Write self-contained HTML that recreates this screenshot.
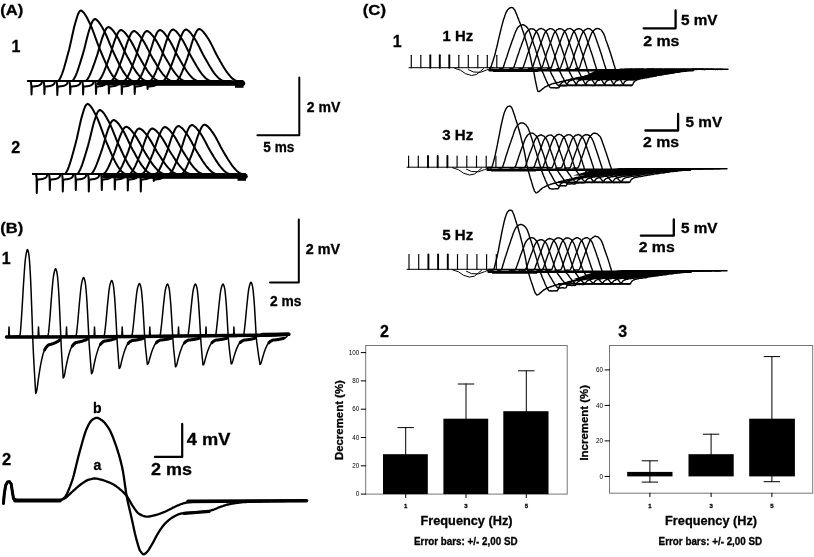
<!DOCTYPE html>
<html lang="en">
<head>
<meta charset="utf-8">
<title>Figure</title>
<style>
html,body{margin:0;padding:0;background:#fff;}
body{width:814px;height:557px;overflow:hidden;}
svg{display:block;}
svg text{font-family:"Liberation Sans",Arial,Helvetica,sans-serif;fill:#000;}
svg text[font-weight="bold"]{stroke:#000;stroke-width:0.3px;}
svg path,svg line{fill:none;stroke:#000;stroke-linejoin:round;stroke-linecap:round;}
</style>
</head>
<body>
<svg width="814" height="557" viewBox="0 0 814 557">
<rect x="0" y="0" width="814" height="557" fill="#fff"/>
<path d="M28 81L30.7 81L31.3 85L31.5 94.5L31.9 86.4L32.5 86.4L33 86.4L33.5 86.4L34 86.4L34.5 86.3L35 86.3L35.5 86.3L36 86.2L36.5 86.1L37 86L37.5 85.9L38 85.8L38.5 85.6L39 85.4L39.5 85.2L40 84.9L40.5 84.6L41 84.1L41.5 83.4L42 81L42.5 81L58 81L59 80.3L60 78.5L61 76.5L62 74L63 71.2L64 68L65 64.5L66 61L67 57.3L68 53.6L69 49.9L70 45.8L71 41.4L72 36.8L73 32.2L74 27.8L75 23.9L76 20.4L77 17.2L78 14.2L79 12.2L80 11L81 10.5L82 11L83 11.9L84 13L85 14.4L86 16L87 17.8L88 19.7L89 21.7L90 23.7L91 26L92 28.4L93 31L94 33.7L95 36.5L96 39.2L97 42L98 44.7L99 47.2L100 49.6L101 52L102 54.4L103 56.8L104 59.1L105 61.4L106 63.6L107 65.8L108 67.8L109 69.7L110 71.5L111 73.2L112 74.8L113 76.2L114 77.5L115 78.5L116 79.4L117 80.2L118 80.8L119 81L120 81L121 81L122 81L123 81L124 81L125 81L243 82.5" stroke-width="2.0" />
<path d="M28 81L43.6 81L44.2 85L44.4 94L44.8 86.4L45.4 86.4L45.9 86.4L46.4 86.4L46.9 86.4L47.4 86.3L47.9 86.3L48.4 86.3L48.9 86.2L49.4 86.1L49.9 86L50.4 85.9L50.9 85.8L51.4 85.6L51.9 85.4L52.4 85.2L52.9 84.9L53.4 84.6L53.9 84.1L54.4 83.4L54.9 81L55.4 81L72 81L73 80.4L74 78.8L75 77.1L76 74.9L77 72.3L78 69.5L79 66.5L80 63.4L81 60.1L82 56.9L83 53.6L84 50.1L85 46.2L86 42.1L87 38.1L88 34.2L89 30.7L90 27.7L91 24.9L92 22.3L93 20.5L94 19.5L95 19L96 19.4L97 20.2L98 21.2L99 22.4L100 23.8L101 25.4L102 27.1L103 28.8L104 30.6L105 32.6L106 34.7L107 37L108 39.4L109 41.8L110 44.3L111 46.7L112 49L113 51.3L114 53.4L115 55.5L116 57.6L117 59.7L118 61.8L119 63.8L120 65.7L121 67.6L122 69.4L123 71.1L124 72.6L125 74.1L126 75.5L127 76.8L128 77.9L129 78.8L130 79.6L131 80.3L132 80.8L133 81L134 81L135 81L136 81L137 81L138 81L139 81L243 82.5" stroke-width="2.0" />
<path d="M28 81L56.5 81L57.1 85L57.3 95L57.7 86.4L58.3 86.4L58.8 86.4L59.3 86.4L59.8 86.4L60.3 86.3L60.8 86.3L61.3 86.3L61.8 86.2L62.3 86.1L62.8 86L63.3 85.9L63.8 85.8L64.3 85.6L64.8 85.4L65.3 85.2L65.8 84.9L66.3 84.6L66.8 84.1L67.3 83.4L67.8 81L68.3 81L85.5 81L86.5 80.5L87.5 79.1L88.5 77.6L89.5 75.7L90.5 73.5L91.5 71L92.5 68.4L93.5 65.6L94.5 62.8L95.5 60L96.5 57.2L97.5 54L98.5 50.6L99.5 47.1L100.5 43.6L101.5 40.3L102.5 37.2L103.5 34.6L104.5 32.1L105.5 29.9L106.5 28.3L107.5 27.4L108.5 27L109.5 27.4L110.5 28.1L111.5 28.9L112.5 30L113.5 31.2L114.5 32.6L115.5 34.1L116.5 35.6L117.5 37.1L118.5 38.8L119.5 40.7L120.5 42.7L121.5 44.8L122.5 46.9L123.5 49L124.5 51.1L125.5 53.2L126.5 55.1L127.5 57L128.5 58.8L129.5 60.6L130.5 62.4L131.5 64.2L132.5 66L133.5 67.7L134.5 69.3L135.5 70.9L136.5 72.4L137.5 73.7L138.5 75L139.5 76.2L140.5 77.4L141.5 78.3L142.5 79.1L143.5 79.8L144.5 80.4L145.5 80.8L146.5 81L147.5 81L148.5 81L149.5 81L150.5 81L151.5 81L152.5 81L243 82.5" stroke-width="2.0" />
<path d="M28 81L69.4 81L70 85L70.2 94L70.6 86.4L71.2 86.4L71.7 86.4L72.2 86.4L72.7 86.4L73.2 86.3L73.7 86.3L74.2 86.3L74.7 86.2L75.2 86.1L75.7 86L76.2 85.9L76.7 85.8L77.2 85.6L77.7 85.4L78.2 85.2L78.7 84.9L79.2 84.6L79.7 84.1L80.2 83.4L80.7 81L81.2 81L98 81L99 80.5L100 79.2L101 77.8L102 76L103 73.9L104 71.6L105 69.1L106 66.5L107 63.8L108 61.2L109 58.5L110 55.5L111 52.3L112 49L113 45.7L114 42.5L115 39.7L116 37.2L117 34.8L118 32.7L119 31.2L120 30.4L121 30L122 30.3L123 31L124 31.8L125 32.8L126 34L127 35.3L128 36.7L129 38.1L130 39.6L131 41.2L132 43L133 44.8L134 46.8L135 48.8L136 50.8L137 52.8L138 54.7L139 56.6L140 58.3L141 60L142 61.8L143 63.5L144 65.2L145 66.8L146 68.4L147 70L148 71.5L149 72.8L150 74.1L151 75.3L152 76.5L153 77.6L154 78.5L155 79.2L156 79.8L157 80.4L158 80.8L159 81L160 81L161 81L162 81L163 81L164 81L165 81L243 82.5" stroke-width="2.0" />
<path d="M28 81L82.3 81L82.9 85L83.1 94.5L83.5 86.4L84.1 86.4L84.6 86.4L85.1 86.4L85.6 86.4L86.1 86.3L86.6 86.3L87.1 86.3L87.6 86.2L88.1 86.1L88.6 86L89.1 85.9L89.6 85.8L90.1 85.6L90.6 85.4L91.1 85.2L91.6 84.9L92.1 84.6L92.6 84.1L93.1 83.4L93.6 81L94.1 81L111 81L112 80.5L113 79.2L114 77.8L115 76.1L116 74L117 71.8L118 69.3L119 66.8L120 64.2L121 61.6L122 58.9L123 56L124 52.9L125 49.6L126 46.4L127 43.3L128 40.5L129 38L130 35.7L131 33.6L132 32.2L133 31.4L134 31L135 31.3L136 32L137 32.8L138 33.8L139 34.9L140 36.2L141 37.5L142 38.9L143 40.4L144 42L145 43.7L146 45.5L147 47.5L148 49.4L149 51.4L150 53.3L151 55.2L152 57L153 58.8L154 60.4L155 62.1L156 63.8L157 65.5L158 67.1L159 68.7L160 70.2L161 71.7L162 73L163 74.3L164 75.4L165 76.6L166 77.6L167 78.5L168 79.2L169 79.9L170 80.4L171 80.8L172 81L173 81L174 81L175 81L176 81L177 81L178 81L243 82.5" stroke-width="2.0" />
<path d="M28 81L95.2 81L95.8 85L96 94L96.4 86.4L97 86.4L97.5 86.4L98 86.4L98.5 86.4L99 86.3L99.5 86.3L100 86.3L100.5 86.2L101 86.1L101.5 86L102 85.9L102.5 85.8L103 85.6L103.5 85.4L104 85.2L104.5 84.9L105 84.6L105.5 84.1L106 83.4L106.5 81L107 81L124 81L125 80.5L126 79.2L127 77.8L128 76.1L129 74L130 71.8L131 69.3L132 66.8L133 64.2L134 61.6L135 58.9L136 56L137 52.9L138 49.6L139 46.4L140 43.3L141 40.5L142 38L143 35.7L144 33.6L145 32.2L146 31.4L147 31L148 31.3L149 32L150 32.8L151 33.8L152 34.9L153 36.2L154 37.5L155 38.9L156 40.4L157 42L158 43.7L159 45.5L160 47.5L161 49.4L162 51.4L163 53.3L164 55.2L165 57L166 58.8L167 60.4L168 62.1L169 63.8L170 65.5L171 67.1L172 68.7L173 70.2L174 71.7L175 73L176 74.3L177 75.4L178 76.6L179 77.6L180 78.5L181 79.2L182 79.9L183 80.4L184 80.8L185 81L186 81L187 81L188 81L189 81L190 81L191 81L243 82.5" stroke-width="2.0" />
<path d="M28 81L108.1 81L108.7 85L108.9 93.5L109.3 86.4L109.9 86.4L110.4 86.4L110.9 86.4L111.4 86.4L111.9 86.3L112.4 86.3L112.9 86.3L113.4 86.2L113.9 86.1L114.4 86L114.9 85.9L115.4 85.8L115.9 85.6L116.4 85.4L116.9 85.2L117.4 84.9L117.9 84.6L118.4 84.1L118.9 83.4L119.4 81L119.9 81L137 81L138 80.5L139 79.2L140 77.8L141 76L142 73.9L143 71.6L144 69.1L145 66.5L146 63.8L147 61.2L148 58.5L149 55.5L150 52.3L151 49L152 45.7L153 42.5L154 39.7L155 37.2L156 34.8L157 32.7L158 31.2L159 30.4L160 30L161 30.3L162 31L163 31.8L164 32.8L165 34L166 35.3L167 36.7L168 38.1L169 39.6L170 41.2L171 43L172 44.8L173 46.8L174 48.8L175 50.8L176 52.8L177 54.7L178 56.6L179 58.3L180 60L181 61.8L182 63.5L183 65.2L184 66.8L185 68.4L186 70L187 71.5L188 72.8L189 74.1L190 75.3L191 76.5L192 77.6L193 78.5L194 79.2L195 79.8L196 80.4L197 80.8L198 81L199 81L200 81L201 81L202 81L203 81L204 81L243 82.5" stroke-width="2.0" />
<path d="M28 81L121 81L121.6 85L121.8 94L122.2 86.4L122.8 86.4L123.3 86.4L123.8 86.4L124.3 86.4L124.8 86.3L125.3 86.3L125.8 86.3L126.3 86.2L126.8 86.1L127.3 86L127.8 85.9L128.3 85.8L128.8 85.6L129.3 85.4L129.8 85.2L130.3 84.9L130.8 84.6L131.3 84.1L131.8 83.4L132.3 81L132.8 81L150 81L151 80.5L152 79.2L153 77.7L154 75.9L155 73.8L156 71.5L157 69L158 66.4L159 63.7L160 61L161 58.3L162 55.3L163 52.1L164 48.7L165 45.4L166 42.2L167 39.3L168 36.8L169 34.4L170 32.2L171 30.7L172 29.9L173 29.5L174 29.8L175 30.5L176 31.3L177 32.3L178 33.5L179 34.8L180 36.2L181 37.7L182 39.2L183 40.8L184 42.6L185 44.5L186 46.4L187 48.5L188 50.5L189 52.5L190 54.5L191 56.3L192 58.1L193 59.8L194 61.6L195 63.3L196 65L197 66.7L198 68.3L199 69.9L200 71.4L201 72.8L202 74.1L203 75.3L204 76.4L205 77.5L206 78.5L207 79.2L208 79.8L209 80.4L210 80.8L211 81L212 81L213 81L214 81L215 81L216 81L217 81L243 82.5" stroke-width="2.0" />
<path d="M28 81L133.9 81L134.5 85L134.7 94L135.1 86.4L135.7 86.4L136.2 86.4L136.7 86.4L137.2 86.4L137.7 86.3L138.2 86.3L138.7 86.3L139.2 86.2L139.7 86.1L140.2 86L140.7 85.9L141.2 85.8L141.7 85.6L142.2 85.4L142.7 85.2L143.2 84.9L143.7 84.6L144.2 84.1L144.7 83.4L145.2 81L145.7 81L163 81L164 80.5L165 79.2L166 77.7L167 75.9L168 73.8L169 71.5L170 69L171 66.4L172 63.7L173 61L174 58.3L175 55.3L176 52.1L177 48.7L178 45.4L179 42.2L180 39.3L181 36.8L182 34.4L183 32.2L184 30.7L185 29.9L186 29.5L187 29.8L188 30.5L189 31.3L190 32.3L191 33.5L192 34.8L193 36.2L194 37.7L195 39.2L196 40.8L197 42.6L198 44.5L199 46.4L200 48.5L201 50.5L202 52.5L203 54.5L204 56.3L205 58.1L206 59.8L207 61.6L208 63.3L209 65L210 66.7L211 68.3L212 69.9L213 71.4L214 72.8L215 74.1L216 75.3L217 76.4L218 77.5L219 78.5L220 79.2L221 79.8L222 80.4L223 80.8L224 81L225 81L226 81L227 81L228 81L229 81L230 81L243 82.5" stroke-width="2.0" />
<path d="M28 81L146.8 81L147.4 85L147.6 89L148 86.4L148.6 86.4L149.1 86.4L149.6 86.4L150.1 86.4L150.6 86.3L151.1 86.3L151.6 86.3L152.1 86.2L152.6 86.1L153.1 86L153.6 85.9L154.1 85.8L154.6 85.6L155.1 85.4L155.6 85.2L156.1 84.9L156.6 84.6L157.1 84.1L157.6 83.4L158.1 81L158.6 81L176.3 81L177.3 80.5L178.3 79.2L179.3 77.7L180.3 75.9L181.3 73.7L182.3 71.4L183.3 68.9L184.3 66.2L185.3 63.5L186.3 60.8L187.3 58.1L188.3 55L189.3 51.8L190.3 48.4L191.3 45L192.3 41.8L193.3 38.8L194.3 36.3L195.3 33.9L196.3 31.8L197.3 30.2L198.3 29.4L199.3 29L200.3 29.3L201.3 30L202.3 30.8L203.3 31.9L204.3 33.1L205.3 34.4L206.3 35.8L207.3 37.3L208.3 38.7L209.3 40.4L210.3 42.2L211.3 44.1L212.3 46.1L213.3 48.1L214.3 50.2L215.3 52.2L216.3 54.2L217.3 56.1L218.3 57.9L219.3 59.6L220.3 61.4L221.3 63.1L222.3 64.9L223.3 66.6L224.3 68.2L225.3 69.8L226.3 71.3L227.3 72.7L228.3 74L229.3 75.2L230.3 76.4L231.3 77.5L232.3 78.4L233.3 79.2L234.3 79.8L235.3 80.4L236.3 80.8L237.3 81L238.3 81L239.3 81L240.3 81L241.3 81L242.3 81L243 82.5" stroke-width="2.0" />
<line x1="98" y1="83.6" x2="243" y2="83.6" stroke-width="3.4"/>
<line x1="143" y1="83.4" x2="243" y2="83.4" stroke-width="4.6"/>
<rect x="235" y="80.2" width="8.5" height="7.6" fill="#000" stroke="none"/>
<path d="M33.4 174L36 174L36.6 178L36.8 193L37.2 179.4L37.8 179.4L38.3 179.4L38.8 179.4L39.3 179.4L39.8 179.3L40.3 179.3L40.8 179.3L41.3 179.2L41.8 179.1L42.3 179L42.8 178.9L43.3 178.8L43.8 178.6L44.3 178.4L44.8 178.2L45.3 177.9L45.8 177.6L46.3 177.1L46.8 176.4L47.3 174L47.8 174L64.7 174L65.7 173.3L66.7 171.5L67.7 169.5L68.7 167.1L69.7 164.2L70.7 161L71.7 157.6L72.7 154L73.7 150.4L74.7 146.7L75.7 143L76.7 139L77.7 134.5L78.7 130L79.7 125.4L80.7 121.1L81.7 117.1L82.7 113.7L83.7 110.4L84.7 107.5L85.7 105.5L86.7 104.3L87.7 103.8L88.7 104.3L89.7 105.2L90.7 106.3L91.7 107.7L92.7 109.3L93.7 111.1L94.7 113L95.7 114.9L96.7 117L97.7 119.2L98.7 121.6L99.7 124.2L100.7 126.9L101.7 129.6L102.7 132.4L103.7 135.2L104.7 137.8L105.7 140.4L106.7 142.8L107.7 145.1L108.7 147.5L109.7 149.9L110.7 152.2L111.7 154.5L112.7 156.7L113.7 158.8L114.7 160.9L115.7 162.8L116.7 164.5L117.7 166.2L118.7 167.8L119.7 169.3L120.7 170.5L121.7 171.5L122.7 172.4L123.7 173.2L124.7 173.8L125.7 174L126.7 174L127.7 174L128.7 174L129.7 174L130.7 174L131.7 174L245.5 175.5" stroke-width="2.0" />
<path d="M33.4 174L49 174L49.6 178L49.8 190L50.2 179.4L50.8 179.4L51.3 179.4L51.8 179.4L52.3 179.4L52.8 179.3L53.3 179.3L53.8 179.3L54.3 179.2L54.8 179.1L55.3 179L55.8 178.9L56.3 178.8L56.8 178.6L57.3 178.4L57.8 178.2L58.3 177.9L58.8 177.6L59.3 177.1L59.8 176.4L60.3 174L60.8 174L77 174L78 173.4L79 171.8L80 169.9L81 167.7L82 165.1L83 162.2L84 159.1L85 155.8L86 152.5L87 149.1L88 145.8L89 142.1L90 138L91 133.9L92 129.7L93 125.7L94 122.1L95 119L96 116L97 113.4L98 111.5L99 110.5L100 110L101 110.4L102 111.3L103 112.3L104 113.5L105 115L106 116.6L107 118.4L108 120.2L109 122L110 124L111 126.3L112 128.6L113 131.1L114 133.6L115 136.1L116 138.6L117 141L118 143.3L119 145.5L120 147.7L121 149.8L122 152L123 154.1L124 156.2L125 158.2L126 160.2L127 162L128 163.8L129 165.4L130 166.9L131 168.3L132 169.7L133 170.8L134 171.8L135 172.5L136 173.3L137 173.8L138 174L139 174L140 174L141 174L142 174L143 174L144 174L245.5 175.5" stroke-width="2.0" />
<path d="M33.4 174L62 174L62.6 178L62.8 191.5L63.2 179.4L63.8 179.4L64.3 179.4L64.8 179.4L65.3 179.4L65.8 179.3L66.3 179.3L66.8 179.3L67.3 179.2L67.8 179.1L68.3 179L68.8 178.9L69.3 178.8L69.8 178.6L70.3 178.4L70.8 178.2L71.3 177.9L71.8 177.6L72.3 177.1L72.8 176.4L73.3 174L73.8 174L90.8 174L91.8 173.5L92.8 172.1L93.8 170.6L94.8 168.7L95.8 166.5L96.8 164L97.8 161.4L98.8 158.6L99.8 155.8L100.8 153L101.8 150.2L102.8 147L103.8 143.6L104.8 140.1L105.8 136.6L106.8 133.3L107.8 130.2L108.8 127.6L109.8 125.1L110.8 122.9L111.8 121.3L112.8 120.4L113.8 120L114.8 120.4L115.8 121.1L116.8 121.9L117.8 123L118.8 124.2L119.8 125.6L120.8 127.1L121.8 128.6L122.8 130.1L123.8 131.8L124.8 133.7L125.8 135.7L126.8 137.8L127.8 139.9L128.8 142L129.8 144.1L130.8 146.2L131.8 148.1L132.8 150L133.8 151.8L134.8 153.6L135.8 155.4L136.8 157.2L137.8 159L138.8 160.7L139.8 162.3L140.8 163.9L141.8 165.4L142.8 166.7L143.8 168L144.8 169.2L145.8 170.4L146.8 171.3L147.8 172.1L148.8 172.8L149.8 173.4L150.8 173.8L151.8 174L152.8 174L153.8 174L154.8 174L155.8 174L156.8 174L157.8 174L245.5 175.5" stroke-width="2.0" />
<path d="M33.4 174L75 174L75.6 178L75.8 190L76.2 179.4L76.8 179.4L77.3 179.4L77.8 179.4L78.3 179.4L78.8 179.3L79.3 179.3L79.8 179.3L80.3 179.2L80.8 179.1L81.3 179L81.8 178.9L82.3 178.8L82.8 178.6L83.3 178.4L83.8 178.2L84.3 177.9L84.8 177.6L85.3 177.1L85.8 176.4L86.3 174L86.8 174L103.3 174L104.3 173.5L105.3 172.3L106.3 171L107.3 169.3L108.3 167.4L109.3 165.3L110.3 163L111.3 160.5L112.3 158.1L113.3 155.6L114.3 153.1L115.3 150.4L116.3 147.4L117.3 144.3L118.3 141.3L119.3 138.3L120.3 135.7L121.3 133.4L122.3 131.2L123.3 129.2L124.3 127.8L125.3 127.1L126.3 126.7L127.3 127L128.3 127.6L129.3 128.4L130.3 129.3L131.3 130.4L132.3 131.6L133.3 132.9L134.3 134.2L135.3 135.6L136.3 137.1L137.3 138.7L138.3 140.5L139.3 142.3L140.3 144.1L141.3 146L142.3 147.8L143.3 149.6L144.3 151.3L145.3 153L146.3 154.6L147.3 156.2L148.3 157.7L149.3 159.3L150.3 160.9L151.3 162.4L152.3 163.8L153.3 165.2L154.3 166.4L155.3 167.6L156.3 168.7L157.3 169.8L158.3 170.8L159.3 171.7L160.3 172.3L161.3 172.9L162.3 173.5L163.3 173.8L164.3 174L165.3 174L166.3 174L167.3 174L168.3 174L169.3 174L170.3 174L245.5 175.5" stroke-width="2.0" />
<path d="M33.4 174L88 174L88.6 178L88.8 191.5L89.2 179.4L89.8 179.4L90.3 179.4L90.8 179.4L91.3 179.4L91.8 179.3L92.3 179.3L92.8 179.3L93.3 179.2L93.8 179.1L94.3 179L94.8 178.9L95.3 178.8L95.8 178.6L96.3 178.4L96.8 178.2L97.3 177.9L97.8 177.6L98.3 177.1L98.8 176.4L99.3 174L99.8 174L116.3 174L117.3 173.6L118.3 172.4L119.3 171.1L120.3 169.5L121.3 167.6L122.3 165.6L123.3 163.4L124.3 161.1L125.3 158.7L126.3 156.3L127.3 153.9L128.3 151.3L129.3 148.4L130.3 145.5L131.3 142.5L132.3 139.7L133.3 137.1L134.3 134.9L135.3 132.8L136.3 130.9L137.3 129.6L138.3 128.8L139.3 128.5L140.3 128.8L141.3 129.4L142.3 130.1L143.3 131L144.3 132.1L145.3 133.2L146.3 134.5L147.3 135.7L148.3 137L149.3 138.5L150.3 140.1L151.3 141.7L152.3 143.5L153.3 145.3L154.3 147L155.3 148.8L156.3 150.6L157.3 152.2L158.3 153.8L159.3 155.3L160.3 156.8L161.3 158.4L162.3 159.9L163.3 161.4L164.3 162.8L165.3 164.2L166.3 165.5L167.3 166.7L168.3 167.9L169.3 168.9L170.3 170L171.3 170.9L172.3 171.8L173.3 172.4L174.3 173L175.3 173.5L176.3 173.9L177.3 174L178.3 174L179.3 174L180.3 174L181.3 174L182.3 174L183.3 174L245.5 175.5" stroke-width="2.0" />
<path d="M33.4 174L101 174L101.6 178L101.8 190L102.2 179.4L102.8 179.4L103.3 179.4L103.8 179.4L104.3 179.4L104.8 179.3L105.3 179.3L105.8 179.3L106.3 179.2L106.8 179.1L107.3 179L107.8 178.9L108.3 178.8L108.8 178.6L109.3 178.4L109.8 178.2L110.3 177.9L110.8 177.6L111.3 177.1L111.8 176.4L112.3 174L112.8 174L129.4 174L130.4 173.6L131.4 172.4L132.4 171.1L133.4 169.5L134.4 167.6L135.4 165.6L136.4 163.4L137.4 161.1L138.4 158.7L139.4 156.3L140.4 153.9L141.4 151.3L142.4 148.4L143.4 145.5L144.4 142.5L145.4 139.7L146.4 137.1L147.4 134.9L148.4 132.8L149.4 130.9L150.4 129.6L151.4 128.8L152.4 128.5L153.4 128.8L154.4 129.4L155.4 130.1L156.4 131L157.4 132.1L158.4 133.2L159.4 134.5L160.4 135.7L161.4 137L162.4 138.5L163.4 140.1L164.4 141.7L165.4 143.5L166.4 145.3L167.4 147L168.4 148.8L169.4 150.6L170.4 152.2L171.4 153.8L172.4 155.3L173.4 156.8L174.4 158.4L175.4 159.9L176.4 161.4L177.4 162.8L178.4 164.2L179.4 165.5L180.4 166.7L181.4 167.9L182.4 168.9L183.4 170L184.4 170.9L185.4 171.8L186.4 172.4L187.4 173L188.4 173.5L189.4 173.9L190.4 174L191.4 174L192.4 174L193.4 174L194.4 174L195.4 174L196.4 174L245.5 175.5" stroke-width="2.0" />
<path d="M33.4 174L114 174L114.6 178L114.8 189.5L115.2 179.4L115.8 179.4L116.3 179.4L116.8 179.4L117.3 179.4L117.8 179.3L118.3 179.3L118.8 179.3L119.3 179.2L119.8 179.1L120.3 179L120.8 178.9L121.3 178.8L121.8 178.6L122.3 178.4L122.8 178.2L123.3 177.9L123.8 177.6L124.3 177.1L124.8 176.4L125.3 174L125.8 174L142 174L143 173.5L144 172.4L145 171L146 169.4L147 167.4L148 165.3L149 163L150 160.6L151 158.2L152 155.7L153 153.3L154 150.5L155 147.6L156 144.5L157 141.5L158 138.6L159 135.9L160 133.6L161 131.4L162 129.5L163 128.1L164 127.4L165 127L166 127.3L167 127.9L168 128.7L169 129.6L170 130.7L171 131.9L172 133.1L173 134.5L174 135.8L175 137.3L176 138.9L177 140.7L178 142.5L179 144.3L180 146.2L181 148L182 149.8L183 151.5L184 153.1L185 154.7L186 156.3L187 157.8L188 159.4L189 160.9L190 162.4L191 163.9L192 165.2L193 166.5L194 167.7L195 168.8L196 169.8L197 170.8L198 171.7L199 172.4L200 172.9L201 173.5L202 173.8L203 174L204 174L205 174L206 174L207 174L208 174L209 174L245.5 175.5" stroke-width="2.0" />
<path d="M33.4 174L127 174L127.6 178L127.8 190.5L128.2 179.4L128.8 179.4L129.3 179.4L129.8 179.4L130.3 179.4L130.8 179.3L131.3 179.3L131.8 179.3L132.3 179.2L132.8 179.1L133.3 179L133.8 178.9L134.3 178.8L134.8 178.6L135.3 178.4L135.8 178.2L136.3 177.9L136.8 177.6L137.3 177.1L137.8 176.4L138.3 174L138.8 174L155.5 174L156.5 173.5L157.5 172.3L158.5 170.9L159.5 169.3L160.5 167.3L161.5 165.1L162.5 162.8L163.5 160.4L164.5 157.8L165.5 155.3L166.5 152.8L167.5 150L168.5 147L169.5 143.9L170.5 140.8L171.5 137.8L172.5 135.1L173.5 132.8L174.5 130.5L175.5 128.5L176.5 127.1L177.5 126.4L178.5 126L179.5 126.3L180.5 127L181.5 127.7L182.5 128.6L183.5 129.7L184.5 131L185.5 132.3L186.5 133.6L187.5 135L188.5 136.5L189.5 138.2L190.5 140L191.5 141.8L192.5 143.7L193.5 145.6L194.5 147.4L195.5 149.3L196.5 151L197.5 152.6L198.5 154.3L199.5 155.9L200.5 157.5L201.5 159.1L202.5 160.7L203.5 162.2L204.5 163.6L205.5 165L206.5 166.3L207.5 167.5L208.5 168.7L209.5 169.8L210.5 170.8L211.5 171.6L212.5 172.3L213.5 172.9L214.5 173.4L215.5 173.8L216.5 174L217.5 174L218.5 174L219.5 174L220.5 174L221.5 174L222.5 174L245.5 175.5" stroke-width="2.0" />
<path d="M33.4 174L140 174L140.6 178L140.8 191.5L141.2 179.4L141.8 179.4L142.3 179.4L142.8 179.4L143.3 179.4L143.8 179.3L144.3 179.3L144.8 179.3L145.3 179.2L145.8 179.1L146.3 179L146.8 178.9L147.3 178.8L147.8 178.6L148.3 178.4L148.8 178.2L149.3 177.9L149.8 177.6L150.3 177.1L150.8 176.4L151.3 174L151.8 174L169 174L170 173.5L171 172.3L172 170.9L173 169.2L174 167.2L175 164.9L176 162.6L177 160.1L178 157.5L179 154.9L180 152.4L181 149.5L182 146.5L183 143.3L184 140.1L185 137L186 134.3L187 131.9L188 129.6L189 127.6L190 126.2L191 125.4L192 125L193 125.3L194 126L195 126.7L196 127.7L197 128.8L198 130.1L199 131.4L200 132.8L201 134.2L202 135.7L203 137.4L204 139.2L205 141.1L206 143L207 145L208 146.9L209 148.7L210 150.5L211 152.2L212 153.9L213 155.5L214 157.2L215 158.8L216 160.4L217 161.9L218 163.4L219 164.8L220 166.2L221 167.4L222 168.5L223 169.7L224 170.7L225 171.6L226 172.3L227 172.9L228 173.4L229 173.8L230 174L231 174L232 174L233 174L234 174L235 174L236 174L245.5 175.5" stroke-width="2.0" />
<path d="M33.4 174L153 174L153.6 178L153.8 181L154.2 179.4L154.8 179.4L155.3 179.4L155.8 179.4L156.3 179.4L156.8 179.3L157.3 179.3L157.8 179.3L158.3 179.2L158.8 179.1L159.3 179L159.8 178.9L160.3 178.8L160.8 178.6L161.3 178.4L161.8 178.2L162.3 177.9L162.8 177.6L163.3 177.1L163.8 176.4L164.3 174L164.8 174L181.6 174L182.6 173.5L183.6 172.3L184.6 170.9L185.6 169.1L186.6 167.1L187.6 164.9L188.6 162.5L189.6 160L190.6 157.4L191.6 154.8L192.6 152.2L193.6 149.3L194.6 146.2L195.6 143L196.6 139.8L197.6 136.7L198.6 134L199.6 131.6L200.6 129.3L201.6 127.2L202.6 125.8L203.6 125L204.6 124.6L205.6 124.9L206.6 125.6L207.6 126.4L208.6 127.3L209.6 128.5L210.6 129.7L211.6 131.1L212.6 132.4L213.6 133.9L214.6 135.4L215.6 137.1L216.6 139L217.6 140.9L218.6 142.8L219.6 144.7L220.6 146.7L221.6 148.5L222.6 150.3L223.6 152L224.6 153.7L225.6 155.4L226.6 157L227.6 158.7L228.6 160.3L229.6 161.8L230.6 163.3L231.6 164.8L232.6 166.1L233.6 167.3L234.6 168.5L235.6 169.6L236.6 170.7L237.6 171.6L238.6 172.3L239.6 172.9L240.6 173.4L241.6 173.8L242.6 174L243.6 174L244.6 174L245.5 175.5" stroke-width="2.0" />
<line x1="103.4" y1="176.6" x2="245.5" y2="176.6" stroke-width="3.4"/>
<line x1="145.5" y1="176.4" x2="245.5" y2="176.4" stroke-width="4.6"/>
<rect x="237.5" y="173.2" width="8.5" height="7.6" fill="#000" stroke="none"/>
<text x="0.3" y="14.5" font-size="14.5" font-weight="bold" text-anchor="start" textLength="23" lengthAdjust="spacingAndGlyphs" >(A)</text>
<text x="11.4" y="51.5" font-size="16" font-weight="bold" text-anchor="start" >1</text>
<text x="11.3" y="152.9" font-size="16" font-weight="bold" text-anchor="start" >2</text>
<path d="M257.4 135.3H299.3V77.4" stroke-width="2.0" stroke-linejoin="miter" stroke-linecap="butt"/>
<text x="306.7" y="111.7" font-size="14" font-weight="bold" text-anchor="start" textLength="33.6" lengthAdjust="spacingAndGlyphs" >2 mV</text>
<text x="263.3" y="151.8" font-size="14" font-weight="bold" text-anchor="start" textLength="31" lengthAdjust="spacingAndGlyphs" >5 ms</text>
<path d="M6.5 336.5L8.6 336.5L9 327L9.5 336.5L19.5 335.7L20 334.8L20.5 331.3L21 324.6L21.5 317.4L22 309.8L22.5 301.1L23 292.3L23.5 284.3L24 276.7L24.5 269.2L25 262.7L25.5 258.2L26 255L26.5 252.2L27 250.2L27.5 249.5L28 250.4L28.5 252.6L29 255.6L29.5 260.6L30 268.3L30.5 277.3L31 288.6L31.5 302.1L32 315.9L32.5 330.5L32.7 336.5L38.1 336.5L38.5 327L39 336.5L47.6 335.9L48.1 335.1L48.6 332.4L49.1 327.3L49.6 321.6L50.1 315.7L50.6 308.9L51.1 302.1L51.6 295.8L52.1 289.9L52.6 284.1L53.1 279L53.6 275.5L54.1 273L54.6 270.8L55.1 269.3L55.6 268.7L56.1 269.4L56.6 271.1L57.1 273.4L57.6 277.3L58.1 283.3L58.6 290.4L59.1 299.1L59.6 309.7L60.1 320.5L60.6 331.8L60.8 336.5L66.1 336.5L66.5 327L67 336.5L75.6 335.9L76.1 335.3L76.6 333L77.1 328.5L77.6 323.5L78.1 318.4L78.6 312.5L79.1 306.6L79.6 301.2L80.1 296L80.6 291L81.1 286.6L81.6 283.5L82.1 281.3L82.6 279.4L83.1 278.1L83.6 277.6L84.1 278.2L84.6 279.7L85.1 281.7L85.6 285.1L86.1 290.3L86.6 296.4L87.1 304L87.6 313.2L88.1 322.6L88.6 332.4L88.8 336.5L94.1 336.5L94.5 327L95 336.5L103.7 336L104.2 335.4L104.7 333.1L105.2 328.9L105.7 324.2L106.2 319.3L106.7 313.7L107.2 308L107.7 302.9L108.2 298L108.7 293.2L109.2 289L109.7 286.1L110.2 284L110.7 282.2L111.2 281L111.7 280.5L112.2 281.1L112.7 282.5L113.2 284.4L113.7 287.6L114.2 292.6L114.7 298.4L115.2 305.6L115.7 314.4L116.2 323.3L116.7 332.6L116.9 336.5L121.8 336.5L122.2 327L122.7 336.5L131.4 336L131.9 335.4L132.4 333.3L132.9 329.3L133.4 324.8L133.9 320.2L134.4 314.9L134.9 309.6L135.4 304.7L135.9 300.1L136.4 295.5L136.9 291.6L137.4 288.8L137.9 286.9L138.4 285.2L138.9 284L139.4 283.5L139.9 284L140.4 285.4L140.9 287.2L141.4 290.2L141.9 294.9L142.4 300.5L142.9 307.3L143.4 315.5L143.9 324L144.4 332.8L144.6 336.5L149.4 336.5L149.8 327L150.3 336.5L159.5 336L160 335.4L160.5 333.4L161 329.3L161.5 324.9L162 320.4L162.5 315.1L163 309.8L163.5 305L164 300.4L164.5 295.9L165 292L165.5 289.2L166 287.3L166.5 285.6L167 284.5L167.5 284L168 284.5L168.5 285.9L169 287.7L169.5 290.7L170 295.3L170.5 300.8L171 307.6L171.5 315.7L172 324.1L172.5 332.9L172.7 336.5L178.1 336.5L178.5 327L179 336.5L187.4 336L187.9 335.4L188.4 333.4L188.9 329.3L189.4 324.9L189.9 320.4L190.4 315.1L190.9 309.8L191.4 305L191.9 300.4L192.4 295.9L192.9 292L193.4 289.2L193.9 287.3L194.4 285.6L194.9 284.5L195.4 284L195.9 284.5L196.4 285.9L196.9 287.7L197.4 290.7L197.9 295.3L198.4 300.8L198.9 307.6L199.4 315.7L199.9 324.1L200.4 332.9L200.6 336.5L205.6 336.5L206 327L206.5 336.5L215 336L215.5 335.4L216 333.4L216.5 329.3L217 324.9L217.5 320.4L218 315.1L218.5 309.8L219 305L219.5 300.4L220 295.9L220.5 292L221 289.2L221.5 287.3L222 285.6L222.5 284.5L223 284L223.5 284.5L224 285.9L224.5 287.7L225 290.7L225.5 295.3L226 300.8L226.5 307.6L227 315.7L227.5 324.1L228 332.9L228.2 336.5L233.5 336.5L233.9 327L234.4 336.5L243 336L243.5 335.4L244 333.3L244.5 329.1L245 324.6L245.5 319.9L246 314.5L246.5 309L247 304L247.5 299.3L248 294.7L248.5 290.6L249 287.8L249.5 285.8L250 284.1L250.5 282.9L251 282.4L251.5 282.9L252 284.3L252.5 286.2L253 289.3L253.5 294.1L254 299.7L254.5 306.7L255 315.1L255.5 323.7L256 332.7L256.2 336.5L288.7 335" stroke-width="1.5" />
<path d="M6.5 337L32.7 336.5L33.2 348.9L33.7 358.9L34.2 368.1L34.7 376.9L35.2 385.3L35.7 393.5L36.3 392.4L36.9 389.9L37.5 385.6L38.1 380.9L38.7 376.9L39.3 372.9L39.9 369.2L40.5 365.7L41.1 362.7L41.7 359.7L42.3 357L42.9 354.6L43.5 352.6L44.1 351.1L44.7 349.8L45.3 348.7L45.9 347.7L46.5 346.9L47.1 346.2L47.7 345.6L48.3 345.1L48.9 344.8L49.5 344.7L50.1 344.5L50.7 344.3L51.3 344.1L51.9 344L52.5 343.8L53.1 343.6L53.7 343.4L54.3 343.1L54.9 342.9L55.5 342.6L56.1 342.3L56.7 342L57.3 341.7L57.9 341.4L58.5 341L59.1 340.6L59.7 340.1L60.3 339.6L60.8 336.5L61.2 345.5L61.6 352.8L62 359.5L62.4 365.9L62.8 372L63.2 378L63.8 377.3L64.4 375.5L65 372.3L65.6 368.9L66.2 365.9L66.8 363L67.4 360.3L68 357.8L68.6 355.5L69.2 353.4L69.8 351.4L70.4 349.6L71 348.2L71.6 347.1L72.2 346.1L72.8 345.3L73.4 344.6L74 344L74.6 343.5L75.2 343L75.8 342.6L76.4 342.5L77 342.4L77.6 342.2L78.2 342.1L78.8 342L79.4 341.9L80 341.7L80.6 341.6L81.2 341.4L81.8 341.3L82.4 341.1L83 340.9L83.6 340.7L84.2 340.5L84.8 340.3L85.4 340L86 339.8L86.6 339.5L87.2 339.1L87.8 338.8L88.4 338.5L88.8 336.5L89.2 344.6L89.7 351.2L90.2 357.2L90.6 362.9L91 368.4L91.5 373.8L92.1 373.1L92.7 371.5L93.3 368.6L93.9 365.4L94.5 362.7L95.1 360L95.7 357.4L96.3 355.1L96.9 353.1L97.5 351.1L98.1 349.2L98.7 347.6L99.3 346.3L99.9 345.2L100.5 344.4L101.1 343.6L101.7 342.9L102.3 342.4L102.9 342L103.5 341.5L104.1 341.2L104.7 341L105.3 341L105.9 340.9L106.5 340.8L107.1 340.7L107.7 340.6L108.3 340.5L108.9 340.4L109.5 340.3L110.1 340.1L110.7 340L111.3 339.9L111.9 339.7L112.5 339.6L113.1 339.4L113.7 339.2L114.3 339L114.9 338.8L115.5 338.6L116.1 338.3L116.7 338L116.9 336.5L117.3 343.5L117.7 349.1L118.1 354.3L118.4 359.2L118.8 363.9L119.2 368.5L119.8 368L120.4 366.6L121 364.1L121.6 361.4L122.2 359L122.8 356.7L123.4 354.6L124 352.6L124.6 350.8L125.2 349.1L125.8 347.6L126.4 346.2L127 345L127.6 344.2L128.2 343.4L128.8 342.8L129.4 342.2L130 341.7L130.6 341.4L131.2 341L131.8 340.7L132.4 340.6L133 340.5L133.6 340.4L134.2 340.3L134.8 340.3L135.4 340.2L136 340.1L136.6 340L137.2 339.9L137.8 339.8L138.4 339.7L139 339.5L139.6 339.4L140.2 339.3L140.8 339.1L141.4 338.9L142 338.8L142.6 338.6L143.2 338.4L143.8 338.1L144.4 337.9L144.6 336.5L145.1 342.6L145.5 347.5L146 352L146.5 356.3L146.9 360.4L147.4 364.4L148 364L148.6 362.7L149.2 360.6L149.8 358.2L150.4 356.2L151 354.2L151.6 352.3L152.2 350.6L152.8 349L153.4 347.6L154 346.2L154.6 345L155.2 344L155.8 343.2L156.4 342.6L157 342L157.6 341.5L158.2 341.1L158.8 340.8L159.4 340.5L160 340.2L160.6 340.1L161.2 340L161.8 340L162.4 339.9L163 339.8L163.6 339.8L164.2 339.7L164.8 339.6L165.4 339.5L166 339.4L166.6 339.3L167.2 339.2L167.8 339.1L168.4 338.9L169 338.8L169.6 338.7L170.2 338.5L170.8 338.4L171.4 338.2L172 338L172.6 337.8L172.7 336.5L173.2 343.1L173.6 348.4L174.1 353.3L174.6 358L175 362.5L175.5 366.8L176.1 366.3L176.7 365L177.3 362.6L177.9 360L178.5 357.7L179.1 355.6L179.7 353.5L180.3 351.6L180.9 349.9L181.5 348.3L182.1 346.8L182.7 345.4L183.3 344.3L183.9 343.5L184.5 342.8L185.1 342.2L185.7 341.6L186.3 341.2L186.9 340.8L187.5 340.5L188.1 340.2L188.7 340.1L189.3 340L189.9 340L190.5 339.9L191.1 339.8L191.7 339.8L192.3 339.7L192.9 339.6L193.5 339.5L194.1 339.4L194.7 339.3L195.3 339.2L195.9 339.1L196.5 338.9L197.1 338.8L197.7 338.7L198.3 338.5L198.9 338.4L199.5 338.2L200.1 338L200.6 336.5L201 342.7L201.4 347.7L201.8 352.3L202.2 356.7L202.6 360.9L203 365L203.6 364.6L204.2 363.3L204.8 361.1L205.4 358.7L206 356.6L206.6 354.5L207.2 352.6L207.8 350.8L208.4 349.3L209 347.7L209.6 346.3L210.2 345.1L210.8 344.1L211.4 343.3L212 342.6L212.6 342L213.2 341.6L213.8 341.1L214.4 340.8L215 340.5L215.6 340.2L216.2 340.1L216.8 340L217.4 340L218 339.9L218.6 339.8L219.2 339.8L219.8 339.7L220.4 339.6L221 339.5L221.6 339.4L222.2 339.3L222.8 339.2L223.4 339.1L224 338.9L224.6 338.8L225.2 338.7L225.8 338.5L226.4 338.4L227 338.2L227.6 338L228.2 336.5L228.7 342.5L229.2 347.3L229.7 351.8L230.2 356L230.7 360.1L231.2 364L231.8 363.6L232.4 362.4L233 360.3L233.6 357.9L234.2 355.9L234.8 354L235.4 352.1L236 350.4L236.6 348.9L237.2 347.4L237.8 346.1L238.4 344.9L239 343.9L239.6 343.2L240.2 342.5L240.8 342L241.4 341.5L242 341.1L242.6 340.8L243.2 340.5L243.8 340.2L244.4 340.1L245 340L245.6 340L246.2 339.9L246.8 339.8L247.4 339.8L248 339.7L248.6 339.6L249.2 339.5L249.8 339.4L250.4 339.3L251 339.2L251.6 339.1L252.2 338.9L252.8 338.8L253.4 338.7L254 338.5L254.6 338.4L255.2 338.2L255.8 338L256.2 336.5L256.8 342.6L257.5 347.5L258.1 352L258.7 356.3L259.4 360.4L260 364.4L260.6 364L261.2 362.7L261.8 360.6L262.4 358.2L263 356.2L263.6 354.2L264.2 352.3L264.8 350.6L265.4 349L266 347.6L266.6 346.2L267.2 345L267.8 344L268.4 343.2L269 342.6L269.6 342L270.2 341.5L270.8 341.1L271.4 340.8L272 340.5L272.6 340.2L273.2 340.1L273.8 340L274.4 340L275 339.9L275.6 339.8L276.2 339.8L276.8 339.7L277.4 339.6L278 339.5L278.6 339.4L279.2 339.3L279.8 339.2L280.4 339.1L281 338.9L281.6 338.8L282.2 338.7L282.8 338.5L283.4 338.4L284 338.2L284.6 338L285.2 337.8L285.8 337.6L288.7 334.5" stroke-width="1.5" />
<path d="M44.7 349.8L45.3 348.7L45.9 347.7L46.5 346.9L47.1 346.2L47.7 345.6L48.3 345.1L48.9 344.8L49.5 344.7L50.1 344.5L50.7 344.3L51.3 344.1L51.9 344L52.5 343.8L53.1 343.6L53.7 343.4L54.3 343.1L54.9 342.9L55.5 342.6L56.1 342.3L56.7 342L57.3 341.7L57.9 341.4L58.5 341L59.1 340.6L59.7 340.1" stroke-width="3.0" />
<path d="M72.2 346.1L72.8 345.3L73.4 344.6L74 344L74.6 343.5L75.2 343L75.8 342.6L76.4 342.5L77 342.4L77.6 342.2L78.2 342.1L78.8 342L79.4 341.9L80 341.7L80.6 341.6L81.2 341.4L81.8 341.3L82.4 341.1L83 340.9L83.6 340.7L84.2 340.5L84.8 340.3L85.4 340L86 339.8L86.6 339.5L87.2 339.1" stroke-width="3.0" />
<path d="M100.5 344.4L101.1 343.6L101.7 342.9L102.3 342.4L102.9 342L103.5 341.5L104.1 341.2L104.7 341L105.3 341L105.9 340.9L106.5 340.8L107.1 340.7L107.7 340.6L108.3 340.5L108.9 340.4L109.5 340.3L110.1 340.1L110.7 340L111.3 339.9L111.9 339.7L112.5 339.6L113.1 339.4L113.7 339.2L114.3 339L114.9 338.8L115.5 338.6" stroke-width="3.0" />
<path d="M128.2 343.4L128.8 342.8L129.4 342.2L130 341.7L130.6 341.4L131.2 341L131.8 340.7L132.4 340.6L133 340.5L133.6 340.4L134.2 340.3L134.8 340.3L135.4 340.2L136 340.1L136.6 340L137.2 339.9L137.8 339.8L138.4 339.7L139 339.5L139.6 339.4L140.2 339.3L140.8 339.1L141.4 338.9L142 338.8L142.6 338.6L143.2 338.4" stroke-width="3.0" />
<path d="M156.4 342.6L157 342L157.6 341.5L158.2 341.1L158.8 340.8L159.4 340.5L160 340.2L160.6 340.1L161.2 340L161.8 340L162.4 339.9L163 339.8L163.6 339.8L164.2 339.7L164.8 339.6L165.4 339.5L166 339.4L166.6 339.3L167.2 339.2L167.8 339.1L168.4 338.9L169 338.8L169.6 338.7L170.2 338.5L170.8 338.4L171.4 338.2" stroke-width="3.0" />
<path d="M184.5 342.8L185.1 342.2L185.7 341.6L186.3 341.2L186.9 340.8L187.5 340.5L188.1 340.2L188.7 340.1L189.3 340L189.9 340L190.5 339.9L191.1 339.8L191.7 339.8L192.3 339.7L192.9 339.6L193.5 339.5L194.1 339.4L194.7 339.3L195.3 339.2L195.9 339.1L196.5 338.9L197.1 338.8L197.7 338.7L198.3 338.5L198.9 338.4L199.5 338.2" stroke-width="3.0" />
<path d="M212 342.6L212.6 342L213.2 341.6L213.8 341.1L214.4 340.8L215 340.5L215.6 340.2L216.2 340.1L216.8 340L217.4 340L218 339.9L218.6 339.8L219.2 339.8L219.8 339.7L220.4 339.6L221 339.5L221.6 339.4L222.2 339.3L222.8 339.2L223.4 339.1L224 338.9L224.6 338.8L225.2 338.7L225.8 338.5L226.4 338.4L227 338.2" stroke-width="3.0" />
<path d="M240.2 342.5L240.8 342L241.4 341.5L242 341.1L242.6 340.8L243.2 340.5L243.8 340.2L244.4 340.1L245 340L245.6 340L246.2 339.9L246.8 339.8L247.4 339.8L248 339.7L248.6 339.6L249.2 339.5L249.8 339.4L250.4 339.3L251 339.2L251.6 339.1L252.2 338.9L252.8 338.8L253.4 338.7L254 338.5L254.6 338.4L255.2 338.2" stroke-width="3.0" />
<path d="M269 342.6L269.6 342L270.2 341.5L270.8 341.1L271.4 340.8L272 340.5L272.6 340.2L273.2 340.1L273.8 340L274.4 340L275 339.9L275.6 339.8L276.2 339.8L276.8 339.7L277.4 339.6L278 339.5L278.6 339.4L279.2 339.3L279.8 339.2L280.4 339.1L281 338.9L281.6 338.8L282.2 338.7L282.8 338.5L283.4 338.4L284 338.2" stroke-width="3.0" />
<path d="M6.5 337L40 337L100 336.8L140 336.5L180 336L230 335.5L270 335L288.7 334.3" stroke-width="3.5" />
<line x1="262" y1="334.6" x2="288.7" y2="334.2" stroke-width="3.6"/>
<text x="0.3" y="232.9" font-size="14.5" font-weight="bold" text-anchor="start" textLength="23" lengthAdjust="spacingAndGlyphs" >(B)</text>
<text x="1.8" y="263.6" font-size="16" font-weight="bold" text-anchor="start" >1</text>
<path d="M270 282.6H298.8V219.4" stroke-width="2.0" stroke-linejoin="miter" stroke-linecap="butt"/>
<text x="305.7" y="253.8" font-size="14" font-weight="bold" text-anchor="start" textLength="34.3" lengthAdjust="spacingAndGlyphs" >2 mV</text>
<text x="270" y="305.5" font-size="14" font-weight="bold" text-anchor="start" textLength="31.4" lengthAdjust="spacingAndGlyphs" >2 ms</text>
<path d="M3.4 503.5L4.3 494L5.6 485.5L7.5 482L9.5 481.6L11.2 484L12.4 492L13.5 498.5L16 500.3" stroke-width="3.0" />
<path d="M3.4 503.5L4.3 494L5.6 485.5L7.5 482L9.5 481.6L11.2 484L12.4 492L13.5 498.5L16 500.3L59 500.3L59 500.3L60 500.2L61 499.8L62 499.3L63 498.7L64 498L65 497L66 495.6L67 493.7L68 491.5L69 489.1L70 486.6L71 483.9L72 481.2L73 478L74 474.4L75 470.4L76 466.3L77 462.1L78 458L79 454.1L80 450.5L81 447L82 443.3L83 439.8L84 436.3L85 433.2L86 430.4L87 428L88 425.9L89 424L90 422.3L91 421L92 420L93 419.3L94 418.7L95 418.2L96 417.9L97 417.8L98 418L99 418.5L100 419L101 419.7L102 420.3L103 421.1L104 422.1L105 423.2L106 424.4L107 425.8L108 427.2L109 428.8L110 430.6L111 432.7L112 435L113 437.4L114 440.1L115 442.9L116 445.7L117 448.7L118 451.8L119 455L120 458.6L121 462.4L122 466.7L123 471.6L124 477.9L125 485.2L126 492.2L127 497.9L128 502.7L129 507.1L130 511.3L131 515.6L132 520L133 524.6L134 529.2L135 533.7L136 537.7L137 541.4L138 544.9L139 548.2L140 550.7L141 552.1L142 553.3L143 554.1L144 554.3L145 553.8L146 553L147 552L148 550.8L149 549.4L150 547.7L151 546L152 544.3L153 542.6L154 540.7L155 538.8L156 536.9L157 535L158 533.3L159 531.6L160 530.1L161 528.7L162 527.3L163 526L164 524.7L165 523.6L166 522.6L167 521.7L168 520.8L169 519.9L170 519.1L171 518.4L172 517.7L173 517.1L174 516.6L175 516L176 515.5L177 515L178 514.5L179 514.1L180 513.8L181 513.5L182 513.4L183 513.3L184 513.2L185 513.1L186 513L187 512.9L188 512.8L189 512.8L190 512.7L191 512.7L192 512.6L193 512.5L194 512.5L195 512.4L196 512.3L197 512.2L198 512.1L199 512L200 511.9L201 511.8L202 511.7L203 511.6L204 511.5L205 511.4L206 511.3L207 511.2L208 511L209 510.8L210 510.6L211 510.4L212 510.1L213 509.8L214 509.5L215 509.1L216 508.7L217 508.3L218 507.8L219 507.4L220 507L221 506.6L222 506.3L223 506L224 505.6L225 505.3L226 505L227 504.7L228 504.5L229 504.3L230 504L231 503.8L232 503.6L233 503.5L234 503.3L235 503.1L236 503L237 502.9L238 502.8L239 502.6L240 502.5L241 502.4L242 502.3L243 502.2L244 502.2L245 502.1L246 502L247 501.9L248 501.9L249 501.8L250 501.8L251 501.8L252 501.7L253 501.7L254 501.7L255 501.6L256 501.6L257 501.6L258 501.5L259 501.5L260 501.5L261 501.5L262 501.4L263 501.4L264 501.4L265 501.4L266 501.3L267 501.3L268 501.3L269 501.3L270 501.2L271 501.2L272 501.2L273 501.2L274 501.1L275 501.1L276 501.1L277 501.1L278 501.1L279 501L280 501L281 501L282 501L283 501L284 501L285 501L286 500.9L287 500.9L288 500.9L289 500.9L290 500.9L291 500.9L292 500.9L293 500.9L294 500.9L295 500.8L296 500.8L297 500.8L298 500.8L299 500.8L300 500.8L301 500.8L302 500.8L303 500.8L304 500.8L305 500.8L306 500.8" stroke-width="2.3" />
<path d="M59 500.3L60 500.2L61 499.9L62 499.6L63 499.2L64 498.8L65 498.3L66 497.6L67 496.7L68 495.8L69 494.8L70 493.9L71 492.9L72 492L73 491.1L74 490.2L75 489.3L76 488.4L77 487.5L78 486.6L79 485.8L80 485L81 484.2L82 483.5L83 482.8L84 482.2L85 481.5L86 480.9L87 480.4L88 479.9L89 479.6L90 479.3L91 479.1L92 478.8L93 478.6L94 478.5L95 478.5L96 478.6L97 478.7L98 478.9L99 479.2L100 479.4L101 479.6L102 479.9L103 480.2L104 480.5L105 480.8L106 481.2L107 481.6L108 482L109 482.4L110 482.8L111 483.3L112 483.8L113 484.3L114 484.8L115 485.5L116 486.1L117 486.9L118 487.6L119 488.4L120 489.3L121 490.1L122 491L123 491.9L124 492.9L125 493.9L126 495.1L127 496.3L128 497.8L129 499.5L130 501.3L131 503.1L132 504.8L133 506.3L134 507.8L135 509.3L136 510.7L137 512L138 513.1L139 513.8L140 514.4L141 514.9L142 515.4L143 515.8L144 516.1L145 516.4L146 516.6L147 516.6L148 516.6L149 516.5L150 516.3L151 516.1L152 515.9L153 515.7L154 515.5L155 515.2L156 515L157 514.7L158 514.4L159 514L160 513.7L161 513.3L162 512.9L163 512.5L164 512.1L165 511.7L166 511.2L167 510.8L168 510.3L169 509.8L170 509.2L171 508.7L172 508.2L173 507.6L174 507.2L175 506.7L176 506.3L177 505.8L178 505.4L179 505L180 504.5L181 504.2L182 503.8L183 503.5L184 503.2L185 503L186 502.7L187 502.5L188 502.3L189 502.2L190 502.1L191 502L192 501.9L193 501.8L194 501.8L195 501.7L196 501.7L197 501.7L198 501.6L199 501.6L200 501.6L201 501.6L202 501.6L203 501.6L204 501.5L205 501.5L206 501.5L207 501.5L208 501.5L209 501.5L210 501.4L211 501.4L212 501.4L213 501.4L214 501.4L215 501.4L216 501.4L217 501.4L218 501.3L219 501.3L220 501.3L221 501.3L222 501.3L223 501.3L224 501.3L225 501.3L226 501.2L227 501.2L228 501.2L229 501.2L230 501.2L231 501.2L232 501.2L233 501.2L234 501.2L235 501.1L236 501.1L237 501.1L238 501.1L239 501.1L240 501.1L241 501.1L242 501.1L243 501.1L244 501.1L245 501.1L246 501L247 501L248 501L249 501L250 501L251 501L252 501L253 501L254 501L255 501L256 501L257 501L258 501L259 500.9L260 500.9L261 500.9L262 500.9L263 500.9L264 500.9L265 500.9L266 500.9L267 500.9L268 500.9L269 500.9L270 500.9L271 500.9L272 500.9L273 500.9L274 500.9L275 500.9L276 500.9L277 500.9L278 500.9L279 500.8L280 500.8L281 500.8L282 500.8L283 500.8L284 500.8L285 500.8L286 500.8L287 500.8L288 500.8L289 500.8L290 500.8L291 500.8L292 500.8L293 500.8L294 500.8L295 500.8L296 500.8L297 500.8L298 500.8L299 500.8L300 500.8L301 500.8L302 500.8L303 500.8L304 500.8L305 500.8L306 500.8" stroke-width="2.3" />
<line x1="15" y1="500.5" x2="60" y2="500.5" stroke-width="3.8"/>
<line x1="188" y1="501.4" x2="306.6" y2="500.7" stroke-width="3.6"/>
<line x1="184" y1="513.3" x2="209" y2="511.5" stroke-width="3.2"/>
<text x="1.9" y="464.6" font-size="16.5" font-weight="bold" text-anchor="start" >2</text>
<text x="97.4" y="412.5" font-size="14" font-weight="bold" text-anchor="middle" >b</text>
<text x="97.3" y="470.2" font-size="14" font-weight="bold" text-anchor="middle" >a</text>
<path d="M154.9 456.9H182.2V423.9" stroke-width="2.2" stroke-linejoin="miter" stroke-linecap="butt"/>
<text x="186.8" y="445.2" font-size="16.5" font-weight="bold" text-anchor="start" textLength="43.6" lengthAdjust="spacingAndGlyphs" >4 mV</text>
<text x="151" y="474.6" font-size="16.5" font-weight="bold" text-anchor="start" textLength="41" lengthAdjust="spacingAndGlyphs" >2 ms</text>
<line x1="409" y1="67.7" x2="493.7" y2="67.7" stroke-width="1.0"/>
<line x1="411.3" y1="67.7" x2="411.3" y2="55.3" stroke-width="1.15"/>
<path d="M489.7 68.4L490.4 67.9L491.1 66.6L491.8 64.5L492.5 62.2L493.2 60.2L493.9 57.9L494.6 55.7L495.3 53L496 50L496.7 47.5L497.4 44.5L498.1 41.4L498.8 38.4L499.5 35.4L500.2 32.5L500.9 29.6L501.6 26.7L502.3 24.1L503 21.6L503.7 19L504.4 17.2L505.1 14.9L505.8 13.2L506.5 11.6L507.2 10.5L507.9 9.6L508.6 8.9L509.3 8.4L510 7.9L510.7 7.6L511.4 7.5L512.1 7.7L512.8 7.7L513.5 8.3L514.2 9.5L514.9 10.3L515.6 12L516.3 13.6L517 15.2L517.7 17.4L518.4 18.9L519.1 20.8L519.8 22.5L520.5 24.3L521.2 26.2L521.9 28L522.6 30.4L523.3 32L524 34.5L524.7 36.5L525.4 39L526.1 41.2L526.8 43.6L527.5 46.1L528.2 48.8L528.9 51.2L529.6 53.6L530.3 56.6L531 60L531.7 63.5L532.4 66.5L533.1 68.3L533.8 71.8L534.5 75.7L535.2 79.5L535.9 82.8L536.6 86.4L537.3 89.4L538 91.4L538.7 91.6L539.4 91.5L540.1 90.8L540.8 90.5L541.5 89.8L542.2 89.2L542.9 88.6L543.6 88L544.3 87.6L545 87L545.7 86.7L546.4 86.5L547.1 86.1L547.8 85.5L548.5 85.3L549.2 85.1L549.9 85L550.6 84.5L551.3 84.2L552 83.9L552.7 83.7L553.4 83.4L554.1 83.5L554.8 83.1L555.5 83.1L556.2 82.7L556.9 82.4L557.6 82.6L558.3 82.5L559 82.3L559.7 82L560.4 81.6L561.1 81.7L561.8 81.4L562.5 81.4L563.2 81.1L563.9 80.8L564.6 80.9L565.3 80.8L566 80.3L566.7 80.1L567.4 80.3L568.1 80.1L568.8 79.9L569.5 79.6L570.2 79.3L570.9 79.3L571.6 79L572.3 78.9L573 78.9L573.7 78.5L574.4 78.5L575.1 78.4L575.8 78L576.5 78L577.2 77.7L577.9 77.8L578.6 77.4L579.3 77.5L580 77.3L580.7 77.2L581.4 76.7L582.1 76.9L582.8 76.8L583.5 76.6L584.2 76.5L584.9 76.1L585.6 76L586.3 76L587 75.7L587.7 75.8L588.4 75.4L589.1 75.5L589.8 75.2L590.5 75.3L591.2 75.1L591.9 74.8L592.6 74.6L593.3 74.6L594 74.7L594.7 74.6L595.4 74.4L596.1 74.3L596.8 73.9L597.5 73.9L598.2 73.7L598.9 73.7L599.6 73.5L600.3 73.5L601 73.4L601.7 73L602.4 73.1L603.1 73.1L603.8 72.6L604.5 72.7L605.2 72.6L605.9 72.6L606.6 72.1L607.3 72.2L608 71.9L608.7 71.9L609.4 71.8L610.1 71.6L610.8 71.3L611.5 71.1L612.2 71.1L612.9 70.8L613.6 70.7L614.3 70.6L615 70.3L615.7 70.2L616.4 70.2L617.1 69.9L617.8 69.7L618.5 69.9L619.2 69.5L619.9 69.4L620.6 69.3L621.3 69.3L622 69.2L622.7 69.3L623.4 69.3L624.1 69.1L624.8 69.1L625.5 69.1L626.2 69.4L626.9 69.3L627.6 69.1L628.3 69.5L629 69.3L629.7 69.2L630.4 69.1L631.1 69.2L631.8 69.2L632.5 69.5L633.2 69.2L633.9 69.5L634.6 69.4L635.3 69.2L636 69.3L636.7 69.3" stroke-width="1.4" />
<line x1="420.8" y1="67.7" x2="420.8" y2="55.3" stroke-width="1.15"/>
<path d="M499.5 68.7L500.2 68.4L501 68.4L501.7 68.6L502.4 68.5L503.2 67.5L503.9 65.6L504.6 63.3L505.4 60.9L506.1 58.8L506.9 56.7L507.6 54.3L508.3 52.1L509.1 49.7L509.8 47.7L510.5 45.7L511.3 43.6L512 41.3L512.7 39.5L513.5 37.5L514.2 35.2L514.9 33.5L515.7 31.3L516.4 30L517.1 28.5L517.9 27.4L518.6 26.9L519.3 26.1L520.1 25.5L520.8 25.1L521.5 25.2L522.3 24.6L523 24.8L523.8 25L524.5 25.2L525.2 25.9L526 26.3L526.7 27.1L527.4 27.7L528.2 29L528.9 30.1L529.6 32L530.4 34.2L531.1 36.3L531.8 38.6L532.6 40.8L533.3 42.7L534 45L534.8 47.1L535.5 49.4L536.2 51.9L537 53.9L537.7 56.6L538.5 58.7L539.2 61.4L539.9 63.7L540.7 66L541.4 67.9L542.1 71.2L542.9 72.7L543.6 74.2L544.3 76.1L545.1 77.7L545.8 79.4L546.5 81.1L547.3 82.7L548 84.1L548.7 85.3L549.5 86.6L550.2 87.5L550.9 87.9L551.7 87.8L552.4 87.8L553.2 87.9L553.9 87.7L554.6 87.7L555.4 88L556.1 87.8L556.8 88L557.6 87.8L558.3 87.9L559 87.7L559.8 85.9L560.5 84.3L561.2 83.3L562 82.6L562.7 82.1L563.4 81.7L564.2 81.5L564.9 81.4L565.6 81L566.4 80.5L567.1 80.4L567.9 80.3L568.6 80L569.3 79.8L570.1 79.9L570.8 79.7L571.5 79.4L572.3 79.2L573 79.2L573.7 79L574.5 79L575.2 78.6L575.9 78.6L576.7 78.6L577.4 78.4L578.1 78L578.9 77.8L579.6 77.9L580.3 77.6L581.1 77.6L581.8 77.1L582.6 77.2L583.3 76.9L584 76.6L584.8 76.6L585.5 76.4L586.2 76.2L587 76.3L587.7 76.1L588.4 75.8L589.2 75.8L589.9 75.8L590.6 75.6L591.4 75.3L592.1 75.1L592.8 75L593.6 74.9L594.3 74.9L595 74.6L595.8 74.5L596.5 74.2L597.3 74.1L598 74.1L598.7 73.9L599.5 74L600.2 73.7L600.9 73.6L601.7 73.6L602.4 73.4L603.1 73.3L603.9 73.1L604.6 73.1L605.3 72.9L606.1 73L606.8 72.6L607.5 72.7L608.3 72.4L609 72.4L609.7 72.3L610.5 72.1L611.2 71.8L612 71.7L612.7 71.7L613.4 71.6L614.2 71.4L614.9 71.4L615.6 71.1L616.4 71.2L617.1 70.8L617.8 70.8L618.6 70.7L619.3 70.4L620 70.2L620.8 70L621.5 69.9L622.2 69.8L623 69.6L623.7 69.7L624.4 69.5L625.2 69.4L625.9 69.3L626.7 69.2L627.4 69.1L628.1 69.2L628.9 69.2L629.6 69.4L630.3 69.4L631.1 69.3L631.8 69.3L632.5 69.5L633.3 69.4L634 69.4L634.7 69.4L635.5 69.4L636.2 69.3L636.9 69.4L637.7 69.3L638.4 69.2L639.1 69.4L639.9 69.2L640.6 69.4L641.4 69.3L642.1 69.1L642.8 69.2L643.6 69.2L644.3 69.4L645 69.4L645.8 69.4L646.5 69.5L647.2 69.4L648 69.4L648.7 69.2L649.4 69.1L650.2 69.4L650.9 69.4L651.6 69.1L652.4 69.1L653.1 69.2L653.8 69.1" stroke-width="1.4" />
<line x1="430.3" y1="67.7" x2="430.3" y2="55.3" stroke-width="1.9"/>
<path d="M509.8 68.6L510.5 68.5L511.2 68.4L511.9 68.6L512.6 68.6L513.3 67.9L514 66.9L514.7 64.8L515.4 63L516.1 60.5L516.8 58.4L517.5 56.2L518.2 54.2L518.9 52.4L519.6 50.1L520.3 48.1L521 46.5L521.7 44.3L522.4 42.3L523.1 40.8L523.8 38.7L524.5 36.8L525.2 34.9L525.9 33.4L526.6 32.2L527.3 31.3L528 30.6L528.7 29.9L529.4 29.4L530.1 29L530.8 28.8L531.5 28.9L532.2 28.8L532.9 29.2L533.6 29.2L534.3 29.5L535 30.4L535.7 30.7L536.4 31.8L537.1 32.6L537.8 33.9L538.5 35.5L539.2 37.5L539.9 39.8L540.6 41.7L541.3 43.5L542 45.7L542.7 47.8L543.4 49.8L544.1 52.1L544.8 54.1L545.5 56.1L546.2 58.7L546.9 60.9L547.6 63L548.3 65.1L549 67.3L549.7 70.1L550.4 71.4L551.1 73.1L551.8 74.6L552.5 75.9L553.2 77L553.9 78.8L554.6 79.9L555.3 81.4L556 82.7L556.7 83.9L557.4 84.8L558.1 85.3L558.8 85.9L559.5 85.9L560.2 85.7L560.9 85.8L561.6 85.7L562.3 85.8L563 85.7L563.7 85.8L564.4 85.8L565.1 85.8L565.8 85.8L566.5 85.6L567.2 84L567.9 82.8L568.6 81.8L569.3 81.2L570 80.7L570.7 80.6L571.4 80.4L572.1 80L572.8 79.7L573.5 79.6L574.2 79.4L574.9 79L575.6 78.9L576.3 78.7L577 78.6L577.7 78.6L578.4 78.5L579.1 78.3L579.8 78.3L580.5 78.1L581.2 77.8L581.9 77.7L582.6 77.8L583.3 77.6L584 77.5L584.7 77.3L585.4 77.2L586.1 76.9L586.8 76.5L587.5 76.7L588.2 76.6L588.9 76.1L589.6 76.2L590.3 75.8L591 75.8L591.7 75.9L592.4 75.4L593.1 75.4L593.8 75.5L594.5 75.3L595.2 75.2L595.9 74.8L596.6 74.7L597.3 74.6L598 74.6L598.7 74.4L599.4 74.5L600.1 74.4L600.8 74.2L601.5 74L602.2 73.9L602.9 73.8L603.6 73.8L604.3 73.5L605 73.4L605.7 73.3L606.4 73.1L607.1 72.9L607.8 73L608.5 72.8L609.2 72.6L609.9 72.8L610.6 72.5L611.3 72.2L612 72.4L612.7 72.1L613.4 72.1L614.1 71.9L614.8 71.8L615.5 71.7L616.2 71.8L616.9 71.4L617.6 71.3L618.3 71.5L619 71.1L619.7 71.2L620.4 71.1L621.1 71L621.8 70.8L622.5 70.6L623.2 70.6L623.9 70.2L624.6 70.3L625.3 70.1L626 69.9L626.7 69.7L627.4 69.8L628.1 69.7L628.8 69.5L629.5 69.4L630.2 69.5L630.9 69.2L631.6 69.2L632.3 69.3L633 69.4L633.7 69.1L634.4 69.2L635.1 69.4L635.8 69.2L636.5 69.1L637.2 69.4L637.9 69.3L638.6 69.2L639.3 69.3L640 69.1L640.7 69.2L641.4 69.3L642.1 69.2L642.8 69.4L643.5 69.4L644.2 69.4L644.9 69.4L645.6 69.4L646.3 69.3L647 69.3L647.7 69.2L648.4 69.4L649.1 69.3L649.8 69.3L650.5 69.3L651.2 69.4L651.9 69.1L652.6 69.3L653.3 69.2L654 69.4L654.7 69.4L655.4 69.3L656.1 69.2L656.8 69.4" stroke-width="1.4" />
<line x1="439.8" y1="67.7" x2="439.8" y2="55.3" stroke-width="1.9"/>
<path d="M519.2 68.6L519.9 68.5L520.6 68.5L521.3 68.4L522 68.3L522.7 68.2L523.4 66.8L524.1 64.6L524.8 62.7L525.5 60.5L526.2 58.4L526.9 56.1L527.6 54L528.3 52.2L529 50L529.7 48.2L530.4 46.2L531.1 44.2L531.8 42.2L532.5 40.6L533.2 38.4L533.9 36.5L534.6 34.9L535.3 33.4L536 32L536.7 31.1L537.4 30.4L538.1 29.7L538.8 29.2L539.5 28.9L540.2 28.8L540.9 28.4L541.6 28.5L542.3 28.9L543 29.2L543.7 29.5L544.4 29.9L545.1 30.8L545.8 31.5L546.5 32.6L547.2 33.6L547.9 35.6L548.6 37.5L549.3 39.7L550 41.6L550.7 43.6L551.4 45.3L552.1 47.6L552.8 49.7L553.5 51.6L554.2 53.9L554.9 56L555.6 58.2L556.3 60.6L557 62.9L557.7 65.2L558.4 67.1L559.1 69.8L559.8 71.3L560.5 72.9L561.2 74.1L561.9 75.7L562.6 77.1L563.3 78.1L564 79.8L564.7 81.1L565.4 82.3L566.1 83.2L566.8 84L567.5 85.1L568.2 85.1L568.9 85.1L569.6 85.4L570.3 85.2L571 85.1L571.7 85.3L572.4 85.5L573.1 85.4L573.8 85.4L574.5 85.3L575.2 85.5L575.9 85L576.6 83.7L577.3 82.4L578 81.3L578.7 80.9L579.4 80.5L580.1 80.4L580.8 79.7L581.5 79.5L582.2 79.3L582.9 79.2L583.6 78.8L584.3 78.7L585 78.6L585.7 78.5L586.4 78.6L587.1 78.3L587.8 78.1L588.5 77.9L589.2 77.7L589.9 77.9L590.6 77.7L591.3 77.5L592 77.2L592.7 77.3L593.4 77.2L594.1 77L594.8 76.8L595.5 76.5L596.2 76.3L596.9 76.3L597.6 76.3L598.3 76.1L599 76L599.7 75.8L600.4 75.7L601.1 75.6L601.8 75.4L602.5 75.1L603.2 75.3L603.9 75L604.6 74.7L605.3 74.9L606 74.8L606.7 74.5L607.4 74.5L608.1 74.3L608.8 74.3L609.5 74.1L610.2 73.8L610.9 73.7L611.6 73.8L612.3 73.4L613 73.3L613.7 73.5L614.4 73.2L615.1 73L615.8 72.9L616.5 73L617.2 72.8L617.9 72.8L618.6 72.5L619.3 72.7L620 72.5L620.7 72.3L621.4 72.1L622.1 72.2L622.8 71.9L623.5 72L624.2 71.7L624.9 71.5L625.6 71.8L626.3 71.7L627 71.5L627.7 71.4L628.4 71.2L629.1 71L629.8 71L630.5 71L631.2 70.7L631.9 70.5L632.6 70.4L633.3 70.4L634 70L634.7 70L635.4 69.7L636.1 69.6L636.8 69.6L637.5 69.7L638.2 69.3L638.9 69.2L639.6 69.2L640.3 69.5L641 69.1L641.7 69.4L642.4 69.1L643.1 69.3L643.8 69.2L644.5 69.5L645.2 69.5L645.9 69.4L646.6 69.4L647.3 69.4L648 69.1L648.7 69.4L649.4 69.5L650.1 69.2L650.8 69.5L651.5 69.2L652.2 69.4L652.9 69.2L653.6 69.2L654.3 69.1L655 69.3L655.7 69.3L656.4 69.2L657.1 69.2L657.8 69.2L658.5 69.3L659.2 69.2L659.9 69.3L660.6 69.1L661.3 69.3L662 69.3L662.7 69.2L663.4 69.5L664.1 69.3L664.8 69.4L665.5 69.3L666.2 69.1" stroke-width="1.4" />
<line x1="449.3" y1="67.7" x2="449.3" y2="55.3" stroke-width="1.9"/>
<path d="M528.6 68.6L529.3 68.3L530 68.6L530.7 68.7L531.4 68.3L532.1 68.1L532.8 66.6L533.5 64.7L534.2 62.5L534.9 60.4L535.6 58.3L536.3 56.1L537 54.1L537.7 51.9L538.4 50L539.1 48.2L539.8 46.2L540.5 44.1L541.2 42.3L541.9 40.5L542.6 38.5L543.3 36.7L544 34.8L544.7 33.2L545.4 32.1L546.1 31.3L546.8 30.3L547.5 30L548.2 29.5L548.9 29.1L549.6 28.7L550.3 28.6L551 28.6L551.7 28.8L552.4 29.2L553.1 29.6L553.8 30L554.5 30.6L555.2 31.6L555.9 32.6L556.6 33.7L557.3 35.5L558 37.4L558.7 39.4L559.4 41.7L560.1 43.4L560.8 45.5L561.5 47.6L562.2 49.7L562.9 51.8L563.6 53.9L564.3 56.1L565 58.3L565.7 60.6L566.4 62.7L567.1 65.3L567.8 67.2L568.5 69.7L569.2 71.3L569.9 72.9L570.6 74.2L571.3 75.5L572 76.9L572.7 78.3L573.4 79.8L574.1 81.1L574.8 82.3L575.5 83.2L576.2 84.3L576.9 84.9L577.6 85.2L578.3 85.2L579 85.1L579.7 85.4L580.4 85.4L581.1 85.5L581.8 85.3L582.5 85.2L583.2 85.2L583.9 85.1L584.6 85.4L585.3 85L586 83.6L586.7 82.5L587.4 81.5L588.1 81L588.8 80.5L589.5 80.1L590.2 79.8L590.9 79.8L591.6 79.6L592.3 79.3L593 79L593.7 78.9L594.4 78.5L595.1 78.4L595.8 78.5L596.5 78.2L597.2 78.3L597.9 77.9L598.6 77.8L599.3 77.7L600 77.6L600.7 77.4L601.4 77.5L602.1 77.4L602.8 77.2L603.5 76.8L604.2 76.7L604.9 76.7L605.6 76.5L606.3 76.3L607 76.1L607.7 76L608.4 76.1L609.1 75.7L609.8 75.6L610.5 75.4L611.2 75.3L611.9 75.1L612.6 75.2L613.3 75.2L614 75L614.7 74.9L615.4 74.8L616.1 74.7L616.8 74.4L617.5 74.4L618.2 74.1L618.9 74L619.6 73.9L620.3 73.9L621 73.7L621.7 73.5L622.4 73.3L623.1 73.4L623.8 73.1L624.5 73.2L625.2 73.1L625.9 72.8L626.6 72.7L627.3 72.6L628 72.6L628.7 72.5L629.4 72.5L630.1 72.4L630.8 72.3L631.5 72L632.2 72L632.9 71.8L633.6 71.9L634.3 71.8L635 71.8L635.7 71.4L636.4 71.4L637.1 71.3L637.8 71.2L638.5 71L639.2 70.9L639.9 70.7L640.6 70.6L641.3 70.5L642 70.3L642.7 70.1L643.4 70.2L644.1 69.9L644.8 69.7L645.5 70L646.2 69.8L646.9 69.5L647.6 69.5L648.3 69.4L649 69.2L649.7 69.5L650.4 69.4L651.1 69.2L651.8 69.5L652.5 69.1L653.2 69.4L653.9 69.1L654.6 69.4L655.3 69.5L656 69.4L656.7 69.4L657.4 69.2L658.1 69.3L658.8 69.4L659.5 69.2L660.2 69.2L660.9 69.2L661.6 69.3L662.3 69.2L663 69.2L663.7 69.5L664.4 69.3L665.1 69.4L665.8 69.3L666.5 69.3L667.2 69.3L667.9 69.1L668.6 69.1L669.3 69.4L670 69.3L670.7 69.4L671.4 69.4L672.1 69.2L672.8 69.4L673.5 69.2L674.2 69.3L674.9 69.4L675.6 69.5" stroke-width="1.4" />
<line x1="458.8" y1="67.7" x2="458.8" y2="55.3" stroke-width="1.15"/>
<path d="M538 68.7L538.7 68.6L539.4 68.5L540.1 68.3L540.8 68.6L541.5 68.2L542.2 66.7L542.9 64.9L543.6 62.6L544.3 60.5L545 58.3L545.7 56.4L546.4 54L547.1 52.1L547.8 50L548.5 48.2L549.2 46.3L549.9 44.2L550.6 42.5L551.3 40.5L552 38.5L552.7 36.5L553.4 34.8L554.1 33.1L554.8 32.1L555.5 31.2L556.2 30.7L556.9 29.8L557.6 29.3L558.3 29.1L559 28.7L559.7 28.8L560.4 28.8L561.1 28.9L561.8 29.1L562.5 29.5L563.2 30.1L563.9 30.6L564.6 31.3L565.3 32.3L566 33.6L566.7 35.4L567.4 37.5L568.1 39.3L568.8 41.7L569.5 43.3L570.2 45.4L570.9 47.7L571.6 49.6L572.3 51.6L573 53.9L573.7 56.1L574.4 58.2L575.1 60.4L575.8 62.7L576.5 65.2L577.2 67L577.9 70L578.6 71.2L579.3 72.7L580 74L580.7 75.7L581.4 76.7L582.1 78.3L582.8 79.7L583.5 80.9L584.2 82.2L584.9 83.4L585.6 84L586.3 84.9L587 85.2L587.7 85.1L588.4 85.3L589.1 85.2L589.8 85.3L590.5 85.4L591.2 85.1L591.9 85.3L592.6 85.5L593.3 85.5L594 85.5L594.7 85.2L595.4 83.8L596.1 82.3L596.8 81.3L597.5 80.7L598.2 80.4L598.9 80.3L599.6 80.1L600.3 79.4L601 79.2L601.7 79.1L602.4 78.9L603.1 78.7L603.8 78.6L604.5 78.4L605.2 78.5L605.9 78.1L606.6 78L607.3 78.2L608 78L608.7 77.9L609.4 77.5L610.1 77.5L610.8 77.4L611.5 77L612.2 77.2L612.9 76.7L613.6 76.7L614.3 76.4L615 76.5L615.7 76.4L616.4 76.1L617.1 76.2L617.8 75.9L618.5 75.9L619.2 75.6L619.9 75.7L620.6 75.5L621.3 75.2L622 75L622.7 74.9L623.4 75L624.1 74.9L624.8 74.8L625.5 74.7L626.2 74.5L626.9 74.4L627.6 74L628.3 74.2L629 74.1L629.7 73.7L630.4 73.8L631.1 73.7L631.8 73.5L632.5 73.5L633.2 73.2L633.9 73.2L634.6 73.2L635.3 73L636 72.8L636.7 72.6L637.4 72.7L638.1 72.7L638.8 72.6L639.5 72.1L640.2 72L640.9 72.2L641.6 71.9L642.3 71.9L643 71.7L643.7 71.7L644.4 71.6L645.1 71.4L645.8 71.5L646.5 71.2L647.2 71.2L647.9 71.1L648.6 71L649.3 70.7L650 70.7L650.7 70.6L651.4 70.3L652.1 70.3L652.8 70L653.5 70.2L654.2 70.1L654.9 69.9L655.6 69.9L656.3 69.5L657 69.5L657.7 69.3L658.4 69.4L659.1 69.5L659.8 69.2L660.5 69.3L661.2 69.3L661.9 69.4L662.6 69.5L663.3 69.4L664 69.4L664.7 69.2L665.4 69.4L666.1 69.5L666.8 69.2L667.5 69.4L668.2 69.1L668.9 69.2L669.6 69.4L670.3 69.2L671 69.1L671.7 69.2L672.4 69.1L673.1 69.4L673.8 69.4L674.5 69.2L675.2 69.5L675.9 69.5L676.6 69.2L677.3 69.4L678 69.2L678.7 69.2L679.4 69.5L680.1 69.4L680.8 69.1L681.5 69.4L682.2 69.4L682.9 69.4L683.6 69.2L684.3 69.2L685 69.2" stroke-width="1.4" />
<line x1="468.3" y1="67.7" x2="468.3" y2="55.3" stroke-width="1.15"/>
<path d="M547.4 68.6L548.1 68.6L548.8 68.4L549.5 68.5L550.2 68.2L550.9 68L551.6 66.7L552.3 64.7L553 62.7L553.7 60.6L554.4 58.3L555.1 56.1L555.8 54L556.5 52.2L557.2 50.1L557.9 48L558.6 46.3L559.3 44.2L560 42.2L560.7 40.4L561.4 38.5L562.1 36.7L562.8 34.9L563.5 33.4L564.2 32L564.9 31.1L565.6 30.3L566.3 30.1L567 29.3L567.7 28.8L568.4 28.9L569.1 28.7L569.8 28.4L570.5 28.6L571.2 29L571.9 29.4L572.6 30L573.3 30.8L574 31.7L574.7 32.3L575.4 33.6L576.1 35.4L576.8 37.2L577.5 39.5L578.2 41.6L578.9 43.3L579.6 45.4L580.3 47.3L581 49.7L581.7 51.7L582.4 53.8L583.1 56.1L583.8 58.3L584.5 60.5L585.2 62.7L585.9 65.2L586.6 67.2L587.3 70.1L588 71.6L588.7 72.8L589.4 74.2L590.1 75.7L590.8 76.8L591.5 78.2L592.2 79.8L592.9 81.1L593.6 82.2L594.3 83.4L595 84.1L595.7 85.1L596.4 85.2L597.1 85.4L597.8 85.4L598.5 85.1L599.2 85.2L599.9 85.3L600.6 85.3L601.3 85.2L602 85.4L602.7 85.3L603.4 85.4L604.1 85L604.8 83.7L605.5 82.4L606.2 81.5L606.9 80.8L607.6 80.5L608.3 80L609 79.8L609.7 79.5L610.4 79.3L611.1 79L611.8 78.8L612.5 78.6L613.2 78.5L613.9 78.6L614.6 78.6L615.3 78.1L616 78.2L616.7 78.2L617.4 77.7L618.1 77.6L618.8 77.8L619.5 77.6L620.2 77.5L620.9 77.2L621.6 77L622.3 76.8L623 76.6L623.7 76.4L624.4 76.3L625.1 76.2L625.8 76.3L626.5 76L627.2 76L627.9 75.8L628.6 75.5L629.3 75.6L630 75.3L630.7 75.3L631.4 75.2L632.1 75L632.8 75L633.5 74.6L634.2 74.6L634.9 74.4L635.6 74.5L636.3 74.4L637 74.3L637.7 74L638.4 74L639.1 73.8L639.8 73.7L640.5 73.6L641.2 73.6L641.9 73.5L642.6 73.4L643.3 73L644 73.1L644.7 72.9L645.4 72.6L646.1 72.8L646.8 72.6L647.5 72.6L648.2 72.4L648.9 72.4L649.6 72L650.3 72.1L651 71.9L651.7 71.8L652.4 72L653.1 71.7L653.8 71.5L654.5 71.5L655.2 71.4L655.9 71.5L656.6 71L657.3 71L658 71.1L658.7 70.6L659.4 70.8L660.1 70.4L660.8 70.4L661.5 70.3L662.2 70.3L662.9 70L663.6 70L664.3 69.8L665 69.7L665.7 69.5L666.4 69.5L667.1 69.3L667.8 69.5L668.5 69.1L669.2 69.5L669.9 69.3L670.6 69.2L671.3 69.2L672 69.3L672.7 69.2L673.4 69.4L674.1 69.2L674.8 69.5L675.5 69.4L676.2 69.2L676.9 69.4L677.6 69.5L678.3 69.3L679 69.2L679.7 69.4L680.4 69.4L681.1 69.3L681.8 69.3L682.5 69.1L683.2 69.2L683.9 69.2L684.6 69.5L685.3 69.3L686 69.2L686.7 69.2L687.4 69.5L688.1 69.4L688.8 69.5L689.5 69.4L690.2 69.4L690.9 69.2L691.6 69.3L692.3 69.4L693 69.3L693.7 69.2L694.4 69.5" stroke-width="1.4" />
<line x1="477.8" y1="67.7" x2="477.8" y2="55.3" stroke-width="1.15"/>
<path d="M556.8 68.6L557.5 68.6L558.2 68.6L558.9 68.6L559.6 68.3L560.3 68.1L561 66.5L561.7 64.6L562.4 62.7L563.1 60.6L563.8 58.4L564.5 56.4L565.2 54.2L565.9 52.2L566.6 50.1L567.3 48L568 46.3L568.7 44L569.4 42.4L570.1 40.3L570.8 38.7L571.5 36.5L572.2 34.7L572.9 33.1L573.6 32.1L574.3 31.1L575 30.4L575.7 29.8L576.4 29.2L577.1 29.2L577.8 28.7L578.5 28.8L579.2 28.8L579.9 28.8L580.6 29.1L581.3 29.4L582 30.1L582.7 30.7L583.4 31.6L584.1 32.5L584.8 33.9L585.5 35.5L586.2 37.4L586.9 39.4L587.6 41.5L588.3 43.4L589 45.6L589.7 47.6L590.4 49.8L591.1 51.7L591.8 53.8L592.5 55.9L593.2 58.3L593.9 60.5L594.6 63L595.3 65L596 67.2L596.7 70L597.4 71.5L598.1 72.8L598.8 74.1L599.5 75.4L600.2 77L600.9 78.3L601.6 79.8L602.3 81L603 82.4L603.7 83.2L604.4 84.3L605.1 84.9L605.8 85.4L606.5 85.3L607.2 85.4L607.9 85.3L608.6 85.2L609.3 85.3L610 85.2L610.7 85.4L611.4 85.5L612.1 85.3L612.8 85.2L613.5 85.3L614.2 83.4L614.9 82.6L615.6 81.4L616.3 80.8L617 80.7L617.7 80.3L618.4 80L619.1 79.5L619.8 79.3L620.5 79.1L621.2 78.8L621.9 78.9L622.6 78.6L623.3 78.5L624 78.3L624.7 78.1L625.4 78.3L626.1 78.1L626.8 77.7L627.5 77.8L628.2 77.6L628.9 77.4L629.6 77.3L630.3 77.1L631 77.2L631.7 76.9L632.4 76.8L633.1 76.7L633.8 76.5L634.5 76.5L635.2 76.3L635.9 75.9L636.6 76.1L637.3 75.7L638 75.8L638.7 75.4L639.4 75.5L640.1 75.2L640.8 75.2L641.5 75L642.2 74.7L642.9 74.8L643.6 74.7L644.3 74.6L645 74.4L645.7 74.2L646.4 74.1L647.1 74L647.8 74L648.5 73.7L649.2 73.7L649.9 73.6L650.6 73.5L651.3 73.3L652 73.4L652.7 73.1L653.4 73L654.1 72.7L654.8 73L655.5 72.6L656.2 72.4L656.9 72.5L657.6 72.2L658.3 72.5L659 72.2L659.7 72L660.4 72L661.1 71.9L661.8 71.8L662.5 71.6L663.2 71.7L663.9 71.6L664.6 71.3L665.3 71.3L666 71.1L666.7 71.2L667.4 70.8L668.1 70.7L668.8 70.9L669.5 70.7L670.2 70.3L670.9 70.3L671.6 70L672.3 70.2L673 70L673.7 69.7L674.4 69.9L675.1 69.7L675.8 69.4L676.5 69.2L677.2 69.4L677.9 69.2L678.6 69.4L679.3 69.1L680 69.3L680.7 69.3L681.4 69.4L682.1 69.3L682.8 69.3L683.5 69.4L684.2 69.4L684.9 69.3L685.6 69.5L686.3 69.2L687 69.4L687.7 69.2L688.4 69.2L689.1 69.2L689.8 69.3L690.5 69.4L691.2 69.3L691.9 69.3L692.6 69.2L693.3 69.1L694 69.1L694.7 69.1L695.4 69.2L696.1 69.1L696.8 69.3L697.5 69.1L698.2 69.1L698.9 69.4L699.6 69.2L700.3 69.1L701 69.2L701.7 69.2L702.4 69.2L703.1 69.4L703.8 69.2" stroke-width="1.4" />
<line x1="487.3" y1="67.7" x2="487.3" y2="55.3" stroke-width="1.15"/>
<path d="M566.2 68.3L566.9 68.4L567.6 68.6L568.3 68.4L569 68.4L569.7 67.9L570.4 66.6L571.1 64.8L571.8 62.7L572.5 60.6L573.2 58.4L573.9 56.2L574.6 54L575.3 51.9L576 50L576.7 48L577.4 46L578.1 44.3L578.8 42.1L579.5 40.5L580.2 38.6L580.9 36.5L581.6 34.8L582.3 33.3L583 32.1L583.7 31.2L584.4 30.4L585.1 29.9L585.8 29.4L586.5 29.1L587.2 28.7L587.9 28.5L588.6 28.6L589.3 28.7L590 29L590.7 29.6L591.4 29.9L592.1 30.8L592.8 31.4L593.5 32.5L594.2 33.7L594.9 35.6L595.6 37.4L596.3 39.5L597 41.5L597.7 43.4L598.4 45.6L599.1 47.4L599.8 49.5L600.5 51.8L601.2 53.7L601.9 56L602.6 58.5L603.3 60.4L604 62.9L604.7 65.1L605.4 67.2L606.1 69.8L606.8 71.5L607.5 72.9L608.2 74.4L608.9 75.6L609.6 76.8L610.3 78.1L611 79.8L611.7 81.2L612.4 82.3L613.1 83.3L613.8 84L614.5 84.8L615.2 85.5L615.9 85.4L616.6 85.4L617.3 85.2L618 85.2L618.7 85.4L619.4 85.5L620.1 85.3L620.8 85.3L621.5 85.2L622.2 85.1L622.9 85L623.6 83.5L624.3 82.3L625 81.5L625.7 81L626.4 80.4L627.1 80L627.8 79.7L628.5 79.6L629.2 79.4L629.9 79.2L630.6 78.8L631.3 78.6L632 78.6L632.7 78.4L633.4 78.5L634.1 78.2L634.8 78L635.5 78.2L636.2 77.8L636.9 77.7L637.6 77.7L638.3 77.3L639 77.5L639.7 77.1L640.4 77L641.1 76.8L641.8 76.6L642.5 76.8L643.2 76.4L643.9 76.2L644.6 76.1L645.3 76.1L646 76L646.7 75.9L647.4 75.8L648.1 75.6L648.8 75.5L649.5 75.1L650.2 75.2L650.9 75.1L651.6 75L652.3 74.7L653 74.5L653.7 74.6L654.4 74.5L655.1 74.4L655.8 74.2L656.5 74.1L657.2 74L657.9 74L658.6 73.8L659.3 73.5L660 73.4L660.7 73.6L661.4 73.5L662.1 73.1L662.8 73.1L663.5 72.8L664.2 72.7L664.9 72.7L665.6 72.7L666.3 72.4L667 72.4L667.7 72.1L668.4 72.3L669.1 71.9L669.8 71.9L670.5 71.8L671.2 71.8L671.9 71.8L672.6 71.7L673.3 71.6L674 71.4L674.7 71.4L675.4 71.2L676.1 71.2L676.8 70.8L677.5 70.8L678.2 70.6L678.9 70.6L679.6 70.4L680.3 70.4L681 70.3L681.7 70L682.4 69.9L683.1 69.7L683.8 69.5L684.5 69.5L685.2 69.3L685.9 69.5L686.6 69.2L687.3 69.2L688 69.2L688.7 69.2L689.4 69.3L690.1 69.5L690.8 69.1L691.5 69.5L692.2 69.3L692.9 69.5L693.6 69.1L694.3 69.3L695 69.3L695.7 69.4L696.4 69.3L697.1 69.4L697.8 69.2L698.5 69.2L699.2 69.1L699.9 69.3L700.6 69.4L701.3 69.1L702 69.3L702.7 69.2L703.4 69.4L704.1 69.5L704.8 69.4L705.5 69.3L706.2 69.3L706.9 69.4L707.6 69.2L708.3 69.2L709 69.4L709.7 69.4L710.4 69.2L711.1 69.3L711.8 69.3L712.5 69.2L713.2 69.1" stroke-width="1.4" />
<line x1="496.8" y1="67.7" x2="496.8" y2="55.3" stroke-width="1.15"/>
<path d="M575.6 68.3L576.3 68.7L577 68.5L577.7 68.5L578.4 68.5L579.1 68.1L579.8 66.7L580.5 64.6L581.2 62.4L581.9 60.2L582.6 58L583.3 56.2L584 53.8L584.7 51.9L585.4 49.8L586.1 47.9L586.8 45.9L587.5 43.9L588.2 42.2L588.9 40.4L589.6 38.4L590.3 36.4L591 34.7L591.7 33L592.4 32.1L593.1 31.2L593.8 30.4L594.5 29.7L595.2 29.1L595.9 28.8L596.6 28.7L597.3 28.5L598 28.6L598.7 28.7L599.4 29L600.1 29.3L600.8 29.8L601.5 30.5L602.2 31.4L602.9 32.5L603.6 33.4L604.3 35.2L605 37.1L605.7 39.4L606.4 41.4L607.1 43.1L607.8 45.2L608.5 47.2L609.2 49.3L609.9 51.6L610.6 53.6L611.3 55.7L612 58L612.7 60.3L613.4 62.7L614.1 65L614.8 67L615.5 70.1L616.2 71.3L616.9 72.7L617.6 74.1L618.3 75.6L619 77.1L619.7 78L620.4 79.5L621.1 80.9L621.8 82.3L622.5 83.5L623.2 84.3L623.9 85.1L624.6 85.4L625.3 85.3L626 85.5L626.7 85.4L627.4 85.3L628.1 85.4L628.8 85.4L629.5 85.4L630.2 85.5L630.9 85.2L631.6 85.5L632.3 85L633 83.8L633.7 82.5L634.4 81.5L635.1 80.9L635.8 80.3L636.5 80.2L637.2 79.7L637.9 79.5L638.6 79.5L639.3 79.1L640 78.8L640.7 78.7L641.4 78.5L642.1 78.5L642.8 78.5L643.5 78.1L644.2 78.1L644.9 77.9L645.6 77.9L646.3 77.8L647 77.5L647.7 77.4L648.4 77.5L649.1 77.2L649.8 76.9L650.5 76.8L651.2 76.7L651.9 76.7L652.6 76.6L653.3 76.4L654 76.3L654.7 76.2L655.4 76.1L656.1 75.8L656.8 75.8L657.5 75.3L658.2 75.2L658.9 75.4L659.6 75.1L660.3 74.9L661 75L661.7 74.9L662.4 74.5L663.1 74.7L663.8 74.3L664.5 74.4L665.2 74.1L665.9 73.9L666.6 74.1L667.3 73.7L668 73.7L668.7 73.7L669.4 73.6L670.1 73.3L670.8 73.4L671.5 73.3L672.2 72.9L672.9 73.1L673.6 73L674.3 72.9L675 72.7L675.7 72.4L676.4 72.3L677.1 72.2L677.8 72.3L678.5 72.3L679.2 71.9L679.9 72L680.6 71.7L681.3 71.5L682 71.6L682.7 71.6L683.4 71.3L684.1 71.3L684.8 71.1L685.5 71.3L686.2 71L686.9 70.7L687.6 70.7L688.3 70.5L689 70.5L689.7 70.3L690.4 70.3L691.1 69.9L691.8 69.8L692.5 69.7L693.2 69.8L693.9 69.6L694.6 69.3L695.3 69.6L696 69.2L696.7 69.5L697.4 69.3L698.1 69.2L698.8 69.2L699.5 69.4L700.2 69.3L700.9 69.3L701.6 69.3L702.3 69.5L703 69.4L703.7 69.2L704.4 69.5L705.1 69.5L705.8 69.2L706.5 69.3L707.2 69.3L707.9 69.1L708.6 69.4L709.3 69.2L710 69.4L710.7 69.4L711.4 69.3L712.1 69.4L712.8 69.4L713.5 69.3L714.2 69.4L714.9 69.4L715.6 69.5L716.3 69.2L717 69.2L717.7 69.5L718.4 69.2L719.1 69.4L719.8 69.3L720.5 69.2L721.2 69.5L721.9 69.3L722.6 69.2" stroke-width="1.4" />
<path d="M454.5 68.2L460.5 70.2L465.5 73.7L471.5 75.5L476.5 74.5L480.5 71.2L483.5 68.7" stroke-width="1.0" />
<path d="M468.5 69.7L473.5 72L480.5 72.3L486.5 70.1L490.5 68.5" stroke-width="1.0" />
<line x1="489.7" y1="70.2" x2="692.6" y2="70.2" stroke-width="2.6"/>
<line x1="489.7" y1="67.8" x2="551.7" y2="67.8" stroke-width="1.2"/>
<line x1="493.7" y1="71.3" x2="537.7" y2="71.3" stroke-width="1.6"/>
<line x1="558.8" y1="85.3" x2="631.6" y2="85.3" stroke-width="1.7"/>
<line x1="692.6" y1="69.2" x2="728" y2="69.2" stroke-width="1.4"/>
<polygon points="575.6,80.2 597.6,69.8 693.6,69.8 684.6,71.6 670.6,73.8 648.6,77.6 632.6,80.7 622.6,80.2" fill="#000" stroke="none"/>
<text x="442.6" y="40.8" font-size="14.5" font-weight="bold" text-anchor="start" textLength="30.6" lengthAdjust="spacingAndGlyphs" >1 Hz</text>
<path d="M643.6 28.3H675.6V10.4" stroke-width="2.3" stroke-linejoin="miter" stroke-linecap="butt"/>
<text x="680.9" y="24.7" font-size="14.5" font-weight="bold" text-anchor="start" textLength="36.6" lengthAdjust="spacingAndGlyphs" >5 mV</text>
<text x="643.2" y="45.8" font-size="14.5" font-weight="bold" text-anchor="start" textLength="36.2" lengthAdjust="spacingAndGlyphs" >2 ms</text>
<line x1="407" y1="167.2" x2="491.6" y2="167.2" stroke-width="1.0"/>
<line x1="408.6" y1="167.2" x2="408.6" y2="156" stroke-width="1.15"/>
<path d="M487.6 168.2L488.3 167.9L489 167.9L489.7 167.9L490.4 168.2L491.1 168L491.8 167.1L492.5 165.5L493.2 162.9L493.9 160.3L494.6 157.6L495.3 154.7L496 151.4L496.7 148L497.4 144.7L498.1 140.9L498.8 137.3L499.5 133.8L500.2 130.2L500.9 126.5L501.6 123.4L502.3 120.3L503 117.4L503.7 114.7L504.4 112.4L505.1 110.7L505.8 109.2L506.5 108L507.2 107.1L507.9 106.4L508.6 106.4L509.3 106.1L510 106L510.7 106.5L511.4 107.4L512.1 108.4L512.8 110.3L513.5 112.4L514.2 114.3L514.9 116.5L515.6 118.9L516.3 121.1L517 123.1L517.7 125.4L518.4 127.7L519.1 130.3L519.8 132.7L520.5 135.4L521.2 138.3L521.9 141.3L522.6 143.9L523.3 147.1L524 150L524.7 153.3L525.4 157.1L526.1 161.3L526.8 165.2L527.5 167.6L528.2 170.3L528.9 172.9L529.6 175.4L530.3 178L531 180L531.7 182.4L532.4 184.8L533.1 187.2L533.8 189.1L534.5 191.1L535.2 191.9L535.9 192.9L536.6 192.9L537.3 192.5L538 191.9L538.7 191.4L539.4 190.8L540.1 190.1L540.8 189.3L541.5 189L542.2 188.1L542.9 187.8L543.6 187.3L544.3 187.1L545 186.6L545.7 186.3L546.4 185.9L547.1 185.6L547.8 185.4L548.5 185.2L549.2 184.8L549.9 184.6L550.6 184.2L551.3 184.2L552 183.9L552.7 183.7L553.4 183.6L554.1 183.2L554.8 183.2L555.5 182.8L556.2 182.7L556.9 182.5L557.6 182.4L558.3 182.2L559 181.8L559.7 181.7L560.4 181.5L561.1 181.3L561.8 181.2L562.5 181.3L563.2 181L563.9 180.6L564.6 180.3L565.3 180.3L566 180.1L566.7 179.8L567.4 179.7L568.1 179.6L568.8 179.5L569.5 179.2L570.2 179.3L570.9 179.2L571.6 178.8L572.3 178.5L573 178.4L573.7 178.4L574.4 178.3L575.1 177.8L575.8 177.7L576.5 177.5L577.2 177.5L577.9 177.4L578.6 177L579.3 176.9L580 176.9L580.7 176.5L581.4 176.4L582.1 176.3L582.8 176.3L583.5 176.1L584.2 176L584.9 175.6L585.6 175.5L586.3 175.3L587 175.3L587.7 175.1L588.4 175.1L589.1 174.8L589.8 174.6L590.5 174.8L591.2 174.5L591.9 174.2L592.6 174L593.3 174.2L594 174L594.7 173.6L595.4 173.5L596.1 173.6L596.8 173.5L597.5 173.5L598.2 173.1L598.9 172.9L599.6 172.8L600.3 172.6L601 172.7L601.7 172.5L602.4 172.2L603.1 172.4L603.8 172.2L604.5 171.9L605.2 171.8L605.9 171.5L606.6 171.5L607.3 171.5L608 171.2L608.7 171L609.4 170.9L610.1 170.7L610.8 170.6L611.5 170.3L612.2 170L612.9 170L613.6 169.7L614.3 169.7L615 169.5L615.7 169.5L616.4 169.4L617.1 169.2L617.8 168.9L618.5 169L619.2 168.8L619.9 168.7L620.6 168.7L621.3 168.7L622 168.9L622.7 168.8L623.4 169L624.1 168.8L624.8 169L625.5 168.9L626.2 168.8L626.9 169L627.6 169L628.3 168.9L629 169L629.7 168.7L630.4 168.9L631.1 168.8L631.8 168.7L632.5 168.7L633.2 169L633.9 168.6L634.6 168.9" stroke-width="1.4" />
<line x1="418.3" y1="167.2" x2="418.3" y2="156" stroke-width="1.15"/>
<path d="M498.9 168L499.6 167.9L500.4 168L501.1 168L501.8 167.9L502.6 167L503.3 165.1L504 162.7L504.8 160.5L505.5 157.8L506.2 155.5L507 153.2L507.7 151.1L508.5 148.6L509.2 146.6L509.9 144.2L510.7 142.2L511.4 139.9L512.1 137.9L512.9 135.9L513.6 133.6L514.3 131.6L515.1 129.6L515.8 127.9L516.5 126.8L517.3 125.5L518 124.7L518.7 124.2L519.5 123.6L520.2 123.1L520.9 122.9L521.7 123L522.4 122.9L523.2 123L523.9 123.4L524.6 123.9L525.4 124.5L526.1 125L526.8 126.1L527.6 127.2L528.3 128.5L529 130.5L529.8 132.3L530.5 134.8L531.2 136.9L532 139.3L532.7 141.6L533.4 143.8L534.2 146L534.9 148.4L535.6 150.5L536.4 152.9L537.1 155.5L537.9 157.9L538.6 160.5L539.3 163.2L540.1 165.5L540.8 167.5L541.5 170.5L542.3 172.4L543 174.3L543.7 176.1L544.5 177.7L545.2 179.7L545.9 181.3L546.7 182.9L547.4 184.6L548.1 186.1L548.9 187.5L549.6 188.5L550.3 188.6L551.1 188.9L551.8 189L552.6 189L553.3 189L554 188.9L554.8 188.9L555.5 188.7L556.2 188.7L557 188.9L557.7 188.8L558.4 188.4L559.2 186.6L559.9 185.2L560.6 184.1L561.4 183.2L562.1 182.9L562.8 182.4L563.6 182.1L564.3 181.5L565 181.2L565.8 181.1L566.5 180.9L567.3 180.8L568 180.4L568.7 180.5L569.5 180.2L570.2 179.9L570.9 179.9L571.7 179.5L572.4 179.4L573.1 179.5L573.9 179.2L574.6 179L575.3 178.8L576.1 178.6L576.8 178.6L577.5 178.4L578.3 178L579 177.9L579.7 177.9L580.5 177.5L581.2 177.4L582 177.3L582.7 177L583.4 176.8L584.2 176.7L584.9 176.7L585.6 176.4L586.4 176.3L587.1 176L587.8 175.9L588.6 175.7L589.3 175.5L590 175.5L590.8 175.3L591.5 175L592.2 175.2L593 175L593.7 174.6L594.4 174.7L595.2 174.4L595.9 174.4L596.7 174L597.4 174.2L598.1 173.8L598.9 173.9L599.6 173.6L600.3 173.6L601.1 173.4L601.8 173L602.5 173.1L603.3 172.8L604 172.8L604.7 172.5L605.5 172.6L606.2 172.3L606.9 172.2L607.7 172.1L608.4 172L609.1 172.1L609.9 172L610.6 171.6L611.4 171.4L612.1 171.3L612.8 171.3L613.6 171L614.3 170.9L615 170.8L615.8 170.8L616.5 170.7L617.2 170.2L618 170.2L618.7 170.1L619.4 170L620.2 169.7L620.9 169.4L621.6 169.3L622.4 169.4L623.1 169.2L623.8 169.1L624.6 169.1L625.3 169.1L626.1 168.6L626.8 168.8L627.5 168.7L628.3 169L629 169L629.7 168.7L630.5 169L631.2 168.6L631.9 168.8L632.7 168.9L633.4 168.8L634.1 168.9L634.9 168.9L635.6 168.8L636.3 168.8L637.1 169L637.8 168.8L638.5 168.6L639.3 168.8L640 168.9L640.8 168.9L641.5 168.8L642.2 168.9L643 168.9L643.7 168.7L644.4 168.9L645.2 168.6L645.9 168.7L646.6 168.9L647.4 169L648.1 168.9L648.8 168.9L649.6 168.8L650.3 168.6L651 169L651.8 168.8L652.5 168.6L653.2 168.7" stroke-width="1.4" />
<line x1="428.0" y1="167.2" x2="428.0" y2="156" stroke-width="1.9"/>
<path d="M509.7 167.8L510.4 167.9L511.1 168L511.8 168.1L512.5 168L513.2 167.9L513.9 167.8L514.6 167.7L515.3 166.7L516 164.9L516.7 162.9L517.4 160.8L518.1 158.7L518.8 156.4L519.5 154.4L520.2 152.4L520.9 150.6L521.6 148.5L522.3 146.9L523 144.8L523.7 143.1L524.4 141.1L525.1 139.2L525.8 137.8L526.5 136.7L527.2 135.8L527.9 134.8L528.6 134.3L529.3 133.9L530 133.6L530.7 133.3L531.4 133.1L532.1 133.1L532.8 133.2L533.5 133.4L534.2 134.2L534.9 134.7L535.6 135.2L536.3 136L537 136.8L537.7 138.1L538.4 139.8L539.1 142L539.8 143.8L540.5 146.1L541.2 148.2L541.9 150.1L542.6 152L543.3 153.9L544 156L544.7 158.3L545.4 160.5L546.1 162.8L546.8 165.1L547.5 166.7L548.2 169.6L548.9 170.7L549.6 172.3L550.3 173.4L551 174.5L551.7 175.9L552.4 177.2L553.1 178.4L553.8 179.9L554.5 180.8L555.2 182.2L555.9 183.3L556.6 184.2L557.3 185L558 185.3L558.7 186L559.4 185.9L560.1 185.7L560.8 186L561.5 185.7L562.2 185.8L562.9 185.7L563.6 185.7L564.3 185.6L565 186L565.7 185.8L566.4 185.5L567.1 184.1L567.8 182.9L568.5 181.8L569.2 180.9L569.9 180.6L570.6 180.4L571.3 179.9L572 179.8L572.7 179.4L573.4 179.2L574.1 179.3L574.8 178.8L575.5 178.7L576.2 178.5L576.9 178.6L577.6 178.5L578.3 178.3L579 178L579.7 178.1L580.4 177.8L581.1 177.8L581.8 177.5L582.5 177.5L583.2 177L583.9 177L584.6 177L585.3 176.7L586 176.7L586.7 176.5L587.4 176.3L588.1 176.2L588.8 176.1L589.5 175.9L590.2 175.6L590.9 175.4L591.6 175.5L592.3 175.5L593 175.1L593.7 174.8L594.4 175L595.1 174.8L595.8 174.6L596.5 174.4L597.2 174.5L597.9 174.4L598.6 174L599.3 173.9L600 173.7L600.7 173.8L601.4 173.7L602.1 173.6L602.8 173.2L603.5 173.4L604.2 173L604.9 172.8L605.6 172.8L606.3 172.7L607 172.7L607.7 172.6L608.4 172.6L609.1 172.3L609.8 172.2L610.5 172.2L611.2 172.1L611.9 171.9L612.6 171.9L613.3 171.6L614 171.6L614.7 171.4L615.4 171.3L616.1 171.3L616.8 171.1L617.5 171.1L618.2 170.8L618.9 170.7L619.6 170.9L620.3 170.7L621 170.2L621.7 170.4L622.4 170.1L623.1 170.2L623.8 169.8L624.5 169.6L625.2 169.7L625.9 169.6L626.6 169.4L627.3 169L628 169.2L628.7 168.9L629.4 169.1L630.1 168.7L630.8 168.8L631.5 168.8L632.2 169L632.9 169L633.6 168.7L634.3 168.8L635 169L635.7 168.9L636.4 168.8L637.1 169L637.8 168.9L638.5 168.8L639.2 168.7L639.9 168.9L640.6 168.7L641.3 168.7L642 168.9L642.7 168.6L643.4 168.8L644.1 168.8L644.8 168.6L645.5 168.9L646.2 168.8L646.9 168.9L647.6 169L648.3 168.9L649 168.8L649.7 168.8L650.4 168.8L651.1 169L651.8 168.8L652.5 168.9L653.2 168.6L653.9 168.9L654.6 168.9L655.3 168.7L656 168.6L656.7 169" stroke-width="1.4" />
<line x1="437.70000000000005" y1="167.2" x2="437.70000000000005" y2="156" stroke-width="1.9"/>
<path d="M519 168L519.7 168L520.4 168.1L521.1 168.2L521.8 167.9L522.5 167.9L523.2 167.9L523.9 167.8L524.6 167.7L525.3 166.5L526 164.8L526.7 162.8L527.4 160.5L528.1 158.5L528.8 156.4L529.5 154.3L530.2 152.3L530.9 150.7L531.6 148.7L532.3 146.9L533 145.1L533.7 143.2L534.4 141.1L535.1 139.5L535.8 138.5L536.5 137.4L537.2 137L537.9 136.3L538.6 135.6L539.3 135.6L540 135.1L540.7 135L541.4 134.9L542.1 135.3L542.8 135.7L543.5 135.9L544.2 136.4L544.9 137.2L545.6 137.9L546.3 138.8L547 140.3L547.7 141.9L548.4 143.6L549.1 146L549.8 147.9L550.5 149.8L551.2 152L551.9 153.9L552.6 155.9L553.3 158.2L554 160.2L554.7 162.5L555.4 164.8L556.1 166.6L556.8 169.5L557.5 170.3L558.2 171.6L558.9 172.7L559.6 173.8L560.3 174.7L561 175.7L561.7 176.6L562.4 177.7L563.1 178.7L563.8 179.8L564.5 181L565.2 181.9L565.9 182.4L566.6 183.1L567.3 183.8L568 183.8L568.7 184L569.4 183.9L570.1 184L570.8 183.8L571.5 183.8L572.2 183.7L572.9 183.9L573.6 184L574.3 184L575 183.7L575.7 183.8L576.4 182.2L577.1 181.2L577.8 180.2L578.5 179.6L579.2 179.5L579.9 178.8L580.6 178.6L581.3 178.6L582 178.4L582.7 178L583.4 177.9L584.1 177.7L584.8 177.5L585.5 177.6L586.2 177.1L586.9 177.2L587.6 176.9L588.3 177L589 177L589.7 176.6L590.4 176.6L591.1 176.3L591.8 176.2L592.5 176.3L593.2 176.2L593.9 176L594.6 175.9L595.3 175.7L596 175.3L596.7 175.4L597.4 175.1L598.1 175.1L598.8 175.2L599.5 174.9L600.2 174.8L600.9 174.6L601.6 174.4L602.3 174.3L603 174.4L603.7 174L604.4 174L605.1 174L605.8 174L606.5 173.6L607.2 173.5L607.9 173.3L608.6 173.2L609.3 173.3L610 173.3L610.7 173.1L611.4 172.8L612.1 173L612.8 172.7L613.5 172.5L614.2 172.4L614.9 172.6L615.6 172.3L616.3 172.1L617 172.3L617.7 172.2L618.4 171.9L619.1 171.7L619.8 171.8L620.5 171.7L621.2 171.4L621.9 171.2L622.6 171.2L623.3 171L624 171.3L624.7 171.1L625.4 171L626.1 170.7L626.8 170.6L627.5 170.6L628.2 170.5L628.9 170.5L629.6 170.4L630.3 170.2L631 170L631.7 170L632.4 170L633.1 169.6L633.8 169.8L634.5 169.4L635.2 169.3L635.9 169.1L636.6 169L637.3 169L638 169.1L638.7 169L639.4 168.9L640.1 168.7L640.8 168.8L641.5 168.9L642.2 168.9L642.9 168.7L643.6 168.8L644.3 168.7L645 168.9L645.7 168.9L646.4 168.9L647.1 168.8L647.8 169L648.5 168.6L649.2 168.9L649.9 168.9L650.6 168.8L651.3 168.8L652 168.7L652.7 168.7L653.4 168.7L654.1 169L654.8 168.7L655.5 168.9L656.2 168.7L656.9 168.8L657.6 168.8L658.3 168.7L659 168.7L659.7 168.7L660.4 168.8L661.1 168.8L661.8 168.8L662.5 168.9L663.2 168.7L663.9 168.6L664.6 168.9L665.3 168.9L666 168.8" stroke-width="1.4" />
<line x1="447.40000000000003" y1="167.2" x2="447.40000000000003" y2="156" stroke-width="1.9"/>
<path d="M528 167.9L528.7 167.9L529.4 167.9L530.1 168.1L530.8 167.8L531.5 168.1L532.2 168L532.9 168L533.6 167.7L534.3 166.4L535 164.6L535.7 162.6L536.4 160.5L537.1 158.5L537.8 156.4L538.5 154.3L539.2 152.4L539.9 150.5L540.6 148.6L541.3 146.9L542 144.9L542.7 143L543.4 141L544.1 139.7L544.8 138.6L545.5 137.7L546.2 137L546.9 136.4L547.6 135.9L548.3 135.4L549 135.1L549.7 135.1L550.4 135.1L551.1 135L551.8 135.3L552.5 136L553.2 136.4L553.9 137.2L554.6 137.8L555.3 138.8L556 140L556.7 141.9L557.4 144L558.1 146.1L558.8 147.9L559.5 150L560.2 152.1L560.9 154.1L561.6 155.9L562.3 158.3L563 160.3L563.7 162.3L564.4 164.8L565.1 166.7L565.8 169.2L566.5 170.5L567.2 171.3L567.9 172.2L568.6 173.3L569.3 174.3L570 175.1L570.7 176.3L571.4 177.3L572.1 178.3L572.8 179L573.5 179.9L574.2 180.7L574.9 181.3L575.6 182.1L576.3 182.7L577 182.8L577.7 183L578.4 183L579.1 182.9L579.8 182.9L580.5 182.8L581.2 182.7L581.9 183L582.6 182.8L583.3 182.9L584 182.9L584.7 182.7L585.4 181.5L586.1 180.4L586.8 179.4L587.5 178.9L588.2 178.5L588.9 178.5L589.6 178L590.3 177.7L591 177.6L591.7 177.4L592.4 177.1L593.1 177.2L593.8 176.9L594.5 177L595.2 176.7L595.9 176.6L596.6 176.5L597.3 176.5L598 176.3L598.7 176.4L599.4 176.1L600.1 175.9L600.8 176L601.5 175.6L602.2 175.7L602.9 175.3L603.6 175.5L604.3 175.1L605 175L605.7 175.1L606.4 174.8L607.1 174.8L607.8 174.5L608.5 174.6L609.2 174.4L609.9 174.2L610.6 174.1L611.3 174L612 173.8L612.7 173.8L613.4 173.6L614.1 173.4L614.8 173.4L615.5 173.4L616.2 173.4L616.9 173L617.6 172.9L618.3 172.8L619 173.1L619.7 173L620.4 172.6L621.1 172.6L621.8 172.5L622.5 172.2L623.2 172.3L623.9 172.3L624.6 172.3L625.3 172L626 172L626.7 171.9L627.4 171.8L628.1 171.5L628.8 171.6L629.5 171.4L630.2 171.2L630.9 171.4L631.6 171.1L632.3 170.9L633 170.9L633.7 170.8L634.4 170.8L635.1 170.6L635.8 170.7L636.5 170.3L637.2 170.6L637.9 170.3L638.6 170.1L639.3 170.3L640 170.2L640.7 170L641.4 169.6L642.1 169.8L642.8 169.5L643.5 169.4L644.2 169.4L644.9 169.3L645.6 169.1L646.3 168.9L647 168.9L647.7 169L648.4 169L649.1 168.9L649.8 168.7L650.5 168.6L651.2 168.9L651.9 168.9L652.6 169L653.3 168.9L654 168.9L654.7 168.7L655.4 168.6L656.1 168.6L656.8 169L657.5 168.8L658.2 168.8L658.9 168.7L659.6 168.8L660.3 168.7L661 168.8L661.7 168.9L662.4 168.6L663.1 168.8L663.8 168.8L664.5 168.9L665.2 168.6L665.9 168.9L666.6 168.8L667.3 168.7L668 168.8L668.7 169L669.4 168.7L670.1 168.9L670.8 168.9L671.5 168.8L672.2 168.9L672.9 168.6L673.6 168.9L674.3 168.9L675 169" stroke-width="1.4" />
<line x1="457.1" y1="167.2" x2="457.1" y2="156" stroke-width="1.15"/>
<path d="M537.2 168.1L537.9 167.9L538.6 167.9L539.3 167.8L540 167.9L540.7 168L541.4 168.1L542.1 168.1L542.8 167.5L543.5 166L544.2 164.1L544.9 162.2L545.6 160L546.3 158L547 155.8L547.7 154L548.4 152L549.1 150.1L549.8 148.1L550.5 146.3L551.2 144.2L551.9 142.2L552.6 140.6L553.3 139.1L554 137.9L554.7 137L555.4 136.4L556.1 135.9L556.8 135L557.5 134.7L558.2 134.8L558.9 134.3L559.6 134.4L560.3 134.7L561 134.9L561.7 135.4L562.4 135.8L563.1 136.6L563.8 137.3L564.5 138.1L565.2 139.5L565.9 141.4L566.6 143.2L567.3 145.1L568 147.2L568.7 149.1L569.4 151.5L570.1 153.2L570.8 155.3L571.5 157.3L572.2 159.5L572.9 161.9L573.6 163.9L574.3 166.1L575 168.9L575.7 169.9L576.4 171.1L577.1 171.9L577.8 172.8L578.5 174L579.2 174.7L579.9 175.6L580.6 176.6L581.3 177.9L582 178.7L582.7 179.7L583.4 180.2L584.1 180.9L584.8 181.7L585.5 182.3L586.2 182.3L586.9 182.4L587.6 182.2L588.3 182.4L589 182.1L589.7 182.3L590.4 182.4L591.1 182.4L591.8 182.5L592.5 182.2L593.2 182.2L593.9 182.3L594.6 181L595.3 180L596 179L596.7 178.4L597.4 178.3L598.1 177.8L598.8 177.9L599.5 177.3L600.2 177.5L600.9 177.2L601.6 176.9L602.3 176.9L603 176.8L603.7 176.4L604.4 176.3L605.1 176.3L605.8 176.3L606.5 176.1L607.2 176.2L607.9 176L608.6 175.8L609.3 175.6L610 175.5L610.7 175.4L611.4 175.5L612.1 175.3L612.8 174.9L613.5 174.8L614.2 174.8L614.9 174.7L615.6 174.6L616.3 174.5L617 174.5L617.7 174.1L618.4 174.3L619.1 173.9L619.8 174L620.5 174L621.2 173.7L621.9 173.7L622.6 173.4L623.3 173.5L624 173.2L624.7 173.4L625.4 173.1L626.1 173.1L626.8 173.1L627.5 172.7L628.2 172.8L628.9 172.5L629.6 172.5L630.3 172.5L631 172.4L631.7 172.3L632.4 172L633.1 172.2L633.8 171.8L634.5 171.9L635.2 171.9L635.9 171.7L636.6 171.6L637.3 171.7L638 171.3L638.7 171.3L639.4 171.2L640.1 171.1L640.8 171L641.5 170.9L642.2 170.8L642.9 170.7L643.6 170.7L644.3 170.7L645 170.4L645.7 170.6L646.4 170.4L647.1 170.4L647.8 170.4L648.5 170.2L649.2 170.2L649.9 169.7L650.6 169.8L651.3 169.8L652 169.7L652.7 169.2L653.4 169.1L654.1 169.3L654.8 169.1L655.5 169L656.2 169.1L656.9 169L657.6 169L658.3 168.9L659 168.8L659.7 168.7L660.4 168.7L661.1 168.9L661.8 168.8L662.5 168.8L663.2 168.6L663.9 168.7L664.6 168.7L665.3 168.9L666 168.9L666.7 168.8L667.4 168.6L668.1 168.9L668.8 168.6L669.5 168.9L670.2 168.9L670.9 168.7L671.6 168.7L672.3 168.6L673 168.6L673.7 168.8L674.4 168.6L675.1 168.8L675.8 168.8L676.5 168.7L677.2 168.9L677.9 168.8L678.6 168.6L679.3 168.7L680 168.7L680.7 168.8L681.4 168.8L682.1 168.9L682.8 168.9L683.5 168.6L684.2 169" stroke-width="1.4" />
<line x1="466.8" y1="167.2" x2="466.8" y2="156" stroke-width="1.15"/>
<path d="M546.6 167.8L547.3 168.2L548 168L548.7 168L549.4 168L550.1 168.1L550.8 167.8L551.5 167.9L552.2 167.4L552.9 166.1L553.6 164.2L554.3 162.2L555 160.1L555.7 158.1L556.4 156.1L557.1 153.9L557.8 152.3L558.5 150.4L559.2 148.4L559.9 146.3L560.6 144.4L561.3 142.6L562 140.8L562.7 139.1L563.4 138L564.1 137.1L564.8 136.4L565.5 136.1L566.2 135.4L566.9 135L567.6 135L568.3 134.6L569 134.6L569.7 134.8L570.4 135L571.1 135.3L571.8 135.9L572.5 136.6L573.2 137.4L573.9 138.4L574.6 139.7L575.3 141.6L576 143.2L576.7 145.3L577.4 147.6L578.1 149.6L578.8 151.6L579.5 153.6L580.2 155.4L580.9 157.7L581.6 159.8L582.3 161.9L583 164.4L583.7 166.1L584.4 169.1L585.1 170.1L585.8 171L586.5 172.1L587.2 173L587.9 173.8L588.6 174.9L589.3 175.8L590 176.6L590.7 177.9L591.4 178.6L592.1 179.8L592.8 180.5L593.5 181.1L594.2 181.7L594.9 182.2L595.6 182.2L596.3 182.3L597 182.2L597.7 182.2L598.4 182.3L599.1 182.3L599.8 182.3L600.5 182.4L601.2 182.3L601.9 182.3L602.6 182.5L603.3 182.3L604 180.9L604.7 179.7L605.4 179.1L606.1 178.4L606.8 178.4L607.5 178L608.2 177.7L608.9 177.6L609.6 177.3L610.3 177L611 176.8L611.7 176.8L612.4 176.8L613.1 176.5L613.8 176.6L614.5 176.4L615.2 176.1L615.9 176.2L616.6 176L617.3 175.9L618 175.7L618.7 175.7L619.4 175.7L620.1 175.4L620.8 175.2L621.5 175.1L622.2 175.1L622.9 174.8L623.6 174.9L624.3 174.6L625 174.7L625.7 174.4L626.4 174.5L627.1 174.4L627.8 174L628.5 174L629.2 174.1L629.9 173.8L630.6 173.7L631.3 173.8L632 173.5L632.7 173.5L633.4 173.5L634.1 173.4L634.8 172.9L635.5 173.1L636.2 172.9L636.9 172.7L637.6 172.7L638.3 172.5L639 172.6L639.7 172.5L640.4 172.3L641.1 172.2L641.8 172L642.5 172L643.2 172L643.9 171.8L644.6 171.7L645.3 171.8L646 171.6L646.7 171.4L647.4 171.6L648.1 171.5L648.8 171.4L649.5 171.4L650.2 171.3L650.9 171L651.6 170.9L652.3 171L653 170.9L653.7 170.6L654.4 170.5L655.1 170.6L655.8 170.5L656.5 170.2L657.2 170.1L657.9 170.1L658.6 170L659.3 169.8L660 169.7L660.7 169.5L661.4 169.4L662.1 169.3L662.8 169.4L663.5 169.3L664.2 169.1L664.9 169.2L665.6 169.1L666.3 168.7L667 168.7L667.7 168.8L668.4 168.8L669.1 168.8L669.8 168.8L670.5 168.9L671.2 168.6L671.9 168.6L672.6 168.8L673.3 169L674 168.6L674.7 168.7L675.4 168.8L676.1 168.7L676.8 169L677.5 168.6L678.2 168.9L678.9 169L679.6 168.7L680.3 168.7L681 168.6L681.7 168.8L682.4 168.9L683.1 168.9L683.8 168.9L684.5 168.9L685.2 169L685.9 168.8L686.6 168.6L687.3 168.9L688 168.7L688.7 168.8L689.4 168.8L690.1 168.6L690.8 168.6L691.5 168.8L692.2 168.8L692.9 168.7L693.6 169" stroke-width="1.4" />
<line x1="476.5" y1="167.2" x2="476.5" y2="156" stroke-width="1.15"/>
<path d="M556 168L556.7 167.8L557.4 168L558.1 168L558.8 168L559.5 167.9L560.2 168L560.9 167.9L561.6 167.4L562.3 166.1L563 164.2L563.7 162.4L564.4 160.1L565.1 158L565.8 155.8L566.5 154L567.2 152.3L567.9 150.4L568.6 148.3L569.3 146.4L570 144.7L570.7 142.6L571.4 140.8L572.1 139.2L572.8 138.3L573.5 137.1L574.2 136.6L574.9 135.9L575.6 135.3L576.3 135.2L577 135L577.7 134.7L578.4 134.5L579.1 134.8L579.8 135.2L580.5 135.3L581.2 136.2L581.9 136.7L582.6 137.4L583.3 138.5L584 139.8L584.7 141.6L585.4 143.3L586.1 145.6L586.8 147.5L587.5 149.6L588.2 151.6L588.9 153.5L589.6 155.8L590.3 157.7L591 159.7L591.7 162.1L592.4 164.2L593.1 166.1L593.8 169.1L594.5 170.1L595.2 171.3L595.9 172.2L596.6 173.2L597.3 174.2L598 174.8L598.7 175.8L599.4 176.7L600.1 177.9L600.8 178.7L601.5 179.7L602.2 180.3L602.9 181.2L603.6 181.6L604.3 182.2L605 182.4L605.7 182.4L606.4 182.5L607.1 182.2L607.8 182.5L608.5 182.2L609.2 182.2L609.9 182.5L610.6 182.3L611.3 182.4L612 182.4L612.7 182.1L613.4 180.7L614.1 179.9L614.8 178.9L615.5 178.4L616.2 178.2L616.9 178.1L617.6 177.9L618.3 177.6L619 177.3L619.7 177.3L620.4 177L621.1 176.8L621.8 176.8L622.5 176.6L623.2 176.3L623.9 176.2L624.6 176.3L625.3 176.2L626 176L626.7 176L627.4 175.6L628.1 175.9L628.8 175.7L629.5 175.3L630.2 175.4L630.9 175.1L631.6 175.2L632.3 175.1L633 174.7L633.7 174.8L634.4 174.6L635.1 174.7L635.8 174.4L636.5 174.2L637.2 174.2L637.9 174.1L638.6 173.8L639.3 173.7L640 173.9L640.7 173.7L641.4 173.7L642.1 173.6L642.8 173.1L643.5 173.3L644.2 173.3L644.9 173.1L645.6 173L646.3 172.8L647 172.6L647.7 172.6L648.4 172.5L649.1 172.4L649.8 172.3L650.5 172.3L651.2 172.3L651.9 172.2L652.6 171.9L653.3 171.9L654 171.9L654.7 171.8L655.4 171.6L656.1 171.3L656.8 171.5L657.5 171.5L658.2 171.3L658.9 171L659.6 171.1L660.3 171.1L661 171.1L661.7 170.9L662.4 170.6L663.1 170.5L663.8 170.6L664.5 170.6L665.2 170.4L665.9 170.2L666.6 170.2L667.3 170L668 170.1L668.7 169.8L669.4 169.9L670.1 169.5L670.8 169.5L671.5 169.4L672.2 169.2L672.9 169.2L673.6 168.9L674.3 169.1L675 168.8L675.7 169L676.4 169L677.1 169L677.8 168.6L678.5 168.9L679.2 168.7L679.9 168.7L680.6 168.6L681.3 168.8L682 168.8L682.7 168.7L683.4 168.7L684.1 168.8L684.8 168.7L685.5 168.6L686.2 168.8L686.9 168.7L687.6 168.8L688.3 168.7L689 169L689.7 169L690.4 168.6L691.1 168.7L691.8 168.8L692.5 169L693.2 168.8L693.9 168.8L694.6 168.6L695.3 168.8L696 168.7L696.7 169L697.4 168.6L698.1 168.8L698.8 168.9L699.5 169L700.2 169L700.9 168.7L701.6 168.7L702.3 168.8L703 168.6" stroke-width="1.4" />
<line x1="486.20000000000005" y1="167.2" x2="486.20000000000005" y2="156" stroke-width="1.15"/>
<path d="M564.5 168L565.2 168.1L565.9 168.1L566.6 168L567.3 167.9L568 167.9L568.7 168L569.4 168.1L570.1 167.6L570.8 166.1L571.5 164.1L572.2 162.2L572.9 160.2L573.6 158.1L574.3 156.1L575 154L575.7 152L576.4 150.3L577.1 148.3L577.8 146.4L578.5 144.5L579.2 142.7L579.9 140.6L580.6 139.3L581.3 138.2L582 137.2L582.7 136.3L583.4 135.8L584.1 135.4L584.8 135L585.5 134.7L586.2 134.7L586.9 134.6L587.6 134.7L588.3 135.2L589 135.3L589.7 135.9L590.4 136.7L591.1 137.4L591.8 138.4L592.5 139.9L593.2 141.3L593.9 143.3L594.6 145.3L595.3 147.4L596 149.4L596.7 151.3L597.4 153.6L598.1 155.6L598.8 157.7L599.5 159.9L600.2 161.9L600.9 164.3L601.6 166.2L602.3 169.2L603 170L603.7 170.9L604.4 172.1L605.1 172.9L605.8 173.8L606.5 174.9L607.2 175.9L607.9 176.8L608.6 177.9L609.3 178.7L610 179.5L610.7 180.4L611.4 180.9L612.1 181.6L612.8 181.9L613.5 182.5L614.2 182.3L614.9 182.5L615.6 182.2L616.3 182.3L617 182.5L617.7 182.4L618.4 182.1L619.1 182.5L619.8 182.5L620.5 182.2L621.2 182.2L621.9 180.9L622.6 180L623.3 178.9L624 178.6L624.7 178.1L625.4 177.9L626.1 177.7L626.8 177.4L627.5 177.3L628.2 177.3L628.9 177L629.6 176.8L630.3 176.8L631 176.6L631.7 176.3L632.4 176.2L633.1 176.3L633.8 176.1L634.5 175.9L635.2 176.1L635.9 175.8L636.6 175.8L637.3 175.5L638 175.6L638.7 175.3L639.4 175.2L640.1 175.2L640.8 175L641.5 175L642.2 174.6L642.9 174.6L643.6 174.5L644.3 174.4L645 174.2L645.7 174L646.4 174.2L647.1 173.9L647.8 174L648.5 173.8L649.2 173.7L649.9 173.3L650.6 173.4L651.3 173.4L652 173.3L652.7 173.3L653.4 173L654.1 172.7L654.8 172.6L655.5 172.8L656.2 172.7L656.9 172.6L657.6 172.3L658.3 172.5L659 172.2L659.7 172.3L660.4 172.2L661.1 172L661.8 171.9L662.5 171.6L663.2 171.5L663.9 171.6L664.6 171.7L665.3 171.3L666 171.4L666.7 171.2L667.4 171L668.1 171.1L668.8 171.1L669.5 170.8L670.2 170.8L670.9 170.6L671.6 170.6L672.3 170.7L673 170.6L673.7 170.3L674.4 170.3L675.1 170.3L675.8 170.1L676.5 170L677.2 169.7L677.9 169.6L678.6 169.6L679.3 169.4L680 169.5L680.7 169.2L681.4 169.1L682.1 169L682.8 169.1L683.5 168.8L684.2 168.7L684.9 168.7L685.6 169L686.3 168.7L687 168.8L687.7 168.8L688.4 168.8L689.1 168.8L689.8 168.8L690.5 168.9L691.2 169L691.9 168.9L692.6 168.8L693.3 168.7L694 168.6L694.7 168.8L695.4 168.9L696.1 168.9L696.8 168.9L697.5 168.7L698.2 168.8L698.9 168.7L699.6 168.9L700.3 168.9L701 169L701.7 168.6L702.4 168.7L703.1 168.7L703.8 168.9L704.5 168.9L705.2 168.7L705.9 168.8L706.6 168.9L707.3 168.9L708 168.7L708.7 168.7L709.4 168.8L710.1 168.6L710.8 168.6L711.5 169" stroke-width="1.4" />
<line x1="495.90000000000003" y1="167.2" x2="495.90000000000003" y2="156" stroke-width="1.15"/>
<path d="M573 168.1L573.7 167.9L574.4 168.1L575.1 167.8L575.8 168.2L576.5 168.2L577.2 168L577.9 167.6L578.6 166.7L579.3 165L580 162.9L580.7 160.8L581.4 158.9L582.1 156.7L582.8 154.7L583.5 152.8L584.2 150.6L584.9 148.6L585.6 146.9L586.3 144.9L587 143.1L587.7 141.2L588.4 139.4L589.1 137.7L589.8 136.8L590.5 135.8L591.2 135.2L591.9 134.5L592.6 133.8L593.3 133.4L594 133.3L594.7 133.2L595.4 133.2L596.1 133.6L596.8 133.7L597.5 133.9L598.2 134.7L598.9 135.4L599.6 136.1L600.3 136.9L601 138.4L601.7 140L602.4 142.2L603.1 144L603.8 146L604.5 148L605.2 150.2L605.9 152.1L606.6 154.2L607.3 156.4L608 158.5L608.7 160.5L609.4 163L610.1 165.1L610.8 166.9L611.5 169.4L612.2 170.8L612.9 171.7L613.6 172.5L614.3 173.6L615 174.7L615.7 175.6L616.4 176.7L617.1 177.3L617.8 178.5L618.5 179.5L619.2 180.1L619.9 180.8L620.6 181.4L621.3 182.2L622 182.4L622.7 182.4L623.4 182.2L624.1 182.2L624.8 182.4L625.5 182.5L626.2 182.2L626.9 182.3L627.6 182.1L628.3 182.4L629 182.4L629.7 182.4L630.4 181L631.1 179.9L631.8 179.1L632.5 178.6L633.2 178.3L633.9 177.9L634.6 177.7L635.3 177.5L636 177.2L636.7 177.3L637.4 177L638.1 176.8L638.8 176.8L639.5 176.4L640.2 176.6L640.9 176.5L641.6 176.4L642.3 176.3L643 176.2L643.7 175.9L644.4 175.9L645.1 175.6L645.8 175.6L646.5 175.5L647.2 175.4L647.9 175.1L648.6 175L649.3 174.8L650 175L650.7 174.6L651.4 174.6L652.1 174.5L652.8 174.5L653.5 174.4L654.2 174.2L654.9 173.9L655.6 173.8L656.3 173.8L657 173.5L657.7 173.8L658.4 173.5L659.1 173.5L659.8 173.4L660.5 173L661.2 173.1L661.9 173.1L662.6 172.8L663.3 173L664 172.7L664.7 172.7L665.4 172.6L666.1 172.3L666.8 172.2L667.5 172.2L668.2 172.3L668.9 172L669.6 172L670.3 171.7L671 171.6L671.7 171.5L672.4 171.5L673.1 171.7L673.8 171.3L674.5 171.4L675.2 171.2L675.9 171.3L676.6 171.1L677.3 171.2L678 170.8L678.7 170.9L679.4 170.5L680.1 170.8L680.8 170.4L681.5 170.6L682.2 170.5L682.9 170.4L683.6 170L684.3 170.3L685 169.9L685.7 169.7L686.4 169.9L687.1 169.5L687.8 169.5L688.5 169.3L689.2 169.1L689.9 169.1L690.6 169.3L691.3 168.8L692 168.9L692.7 168.7L693.4 168.8L694.1 168.8L694.8 168.9L695.5 168.7L696.2 168.6L696.9 168.8L697.6 168.9L698.3 168.6L699 168.9L699.7 168.8L700.4 168.9L701.1 168.8L701.8 168.8L702.5 168.7L703.2 168.8L703.9 168.7L704.6 168.8L705.3 168.6L706 168.9L706.7 168.6L707.4 168.9L708.1 168.9L708.8 168.8L709.5 168.6L710.2 168.8L710.9 168.8L711.6 168.7L712.3 169L713 169L713.7 168.9L714.4 168.7L715.1 168.7L715.8 168.9L716.5 168.6L717.2 168.9L717.9 168.8L718.6 168.8L719.3 168.9L720 168.9" stroke-width="1.4" />
<path d="M452.5 167.7L458.5 169.7L463.5 173.2L469.5 175L474.5 174L478.5 170.7L481.5 168.2" stroke-width="1.0" />
<path d="M466.5 169.2L471.5 171.5L478.5 171.8L484.5 169.6L488.5 168" stroke-width="1.0" />
<line x1="487.6" y1="169.7" x2="690" y2="169.7" stroke-width="2.6"/>
<line x1="487.6" y1="167.29999999999998" x2="549.6" y2="167.29999999999998" stroke-width="1.2"/>
<line x1="491.6" y1="170.79999999999998" x2="535.6" y2="170.79999999999998" stroke-width="1.6"/>
<line x1="558.7" y1="182.29999999999998" x2="629" y2="182.29999999999998" stroke-width="1.7"/>
<line x1="690" y1="168.7" x2="727" y2="168.7" stroke-width="1.4"/>
<polygon points="573.0,175.5 595.0,169.3 691.0,169.3 682.0,170.4 668.0,171.7 646.0,173.9 630.0,175.8 620.0,175.5" fill="#000" stroke="none"/>
<text x="442.3" y="139.7" font-size="14.5" font-weight="bold" text-anchor="start" textLength="31" lengthAdjust="spacingAndGlyphs" >3 Hz</text>
<path d="M645.4 130.5H678.1V113.8" stroke-width="2.3" stroke-linejoin="miter" stroke-linecap="butt"/>
<text x="685.5" y="127" font-size="14.5" font-weight="bold" text-anchor="start" textLength="36.6" lengthAdjust="spacingAndGlyphs" >5 mV</text>
<text x="643.0" y="146.7" font-size="14.5" font-weight="bold" text-anchor="start" textLength="36" lengthAdjust="spacingAndGlyphs" >2 ms</text>
<line x1="407" y1="269.3" x2="492.6" y2="269.3" stroke-width="1.0"/>
<line x1="409.0" y1="269.3" x2="409.0" y2="254.5" stroke-width="1.15"/>
<path d="M488.6 270L489.3 270L490 270.1L490.7 270.2L491.4 269.9L492.1 270L492.8 270.2L493.5 269.6L494.2 268L494.9 265.5L495.6 262.8L496.3 260L497 257L497.7 253.7L498.4 250.5L499.1 246.7L499.8 242.9L500.5 239.5L501.2 235.7L501.9 232L502.6 228.7L503.3 225.6L504 222.3L504.7 219.5L505.4 217.2L506.1 215.1L506.8 213.3L507.5 212L508.2 211.3L508.9 210.5L509.6 210.3L510.3 210.2L511 210.3L511.7 210.5L512.4 211.3L513.1 213L513.8 214.5L514.5 216.8L515.2 218.9L515.9 221.2L516.6 223.4L517.3 225.4L518 227.8L518.7 230.2L519.4 232.8L520.1 235.1L520.8 238L521.5 240.8L522.2 243.4L522.9 246.6L523.6 249.6L524.3 252.8L525 256L525.7 259.5L526.4 264L527.1 267.8L527.8 269.9L528.5 272.7L529.2 275.1L529.9 277.4L530.6 279.6L531.3 281.8L532 283.8L532.7 285.8L533.4 288L534.1 290L534.8 292.1L535.5 293.5L536.2 294.1L536.9 295L537.6 294.9L538.3 294.5L539 294.2L539.7 293.4L540.4 292.9L541.1 292.4L541.8 291.5L542.5 291.1L543.2 290.4L543.9 289.8L544.6 289.7L545.3 289L546 288.8L546.7 288.3L547.4 287.9L548.1 287.8L548.8 287.5L549.5 287.1L550.2 286.9L550.9 286.8L551.6 286.5L552.3 286.1L553 286.1L553.7 285.6L554.4 285.5L555.1 285.2L555.8 284.9L556.5 285L557.2 284.8L557.9 284.6L558.6 284.5L559.3 284.3L560 283.9L560.7 284L561.4 283.6L562.1 283.6L562.8 283.5L563.5 283.1L564.2 283.1L564.9 282.8L565.6 282.6L566.3 282.4L567 282.4L567.7 282.2L568.4 282.1L569.1 281.6L569.8 281.4L570.5 281.4L571.2 281L571.9 281L572.6 281L573.3 280.6L574 280.4L574.7 280.3L575.4 280.3L576.1 279.9L576.8 279.7L577.5 279.7L578.2 279.5L578.9 279.2L579.6 279.4L580.3 278.9L581 279.1L581.7 278.9L582.4 278.6L583.1 278.5L583.8 278.2L584.5 278L585.2 277.9L585.9 278L586.6 277.6L587.3 277.4L588 277.2L588.7 277.4L589.4 277L590.1 276.9L590.8 276.7L591.5 276.8L592.2 276.4L592.9 276.4L593.6 276.3L594.3 276.2L595 276.1L595.7 275.8L596.4 275.9L597.1 275.8L597.8 275.6L598.5 275.4L599.2 275.1L599.9 275.2L600.6 275.2L601.3 274.9L602 274.8L602.7 274.5L603.4 274.6L604.1 274.4L604.8 274.2L605.5 274.2L606.2 273.8L606.9 273.9L607.6 273.5L608.3 273.6L609 273.4L609.7 273.3L610.4 273L611.1 272.6L611.8 272.5L612.5 272.4L613.2 272.3L613.9 272.2L614.6 272.1L615.3 271.9L616 271.6L616.7 271.5L617.4 271.3L618.1 271.1L618.8 271L619.5 271.2L620.2 271.1L620.9 270.9L621.6 270.9L622.3 270.7L623 270.8L623.7 270.7L624.4 270.8L625.1 271L625.8 270.8L626.5 271L627.2 270.7L627.9 271L628.6 270.9L629.3 271L630 270.8L630.7 270.9L631.4 271.1L632.1 270.8L632.8 270.9L633.5 270.8L634.2 271.1L634.9 271L635.6 270.9" stroke-width="1.4" />
<line x1="418.7" y1="269.3" x2="418.7" y2="254.5" stroke-width="1.15"/>
<path d="M497.9 270.2L498.6 270.3L499.4 270.2L500.1 270L500.8 270.1L501.6 269.2L502.3 267.2L503 264.7L503.8 262.3L504.5 259.8L505.2 257.6L506 255.3L506.7 253L507.5 250.6L508.2 248.2L508.9 246.2L509.7 244.1L510.4 241.9L511.1 239.5L511.9 237.6L512.6 235.3L513.3 233.2L514.1 231.2L514.8 229.7L515.5 228.3L516.3 227.1L517 226.6L517.7 225.9L518.5 225.2L519.2 224.9L519.9 224.6L520.7 224.5L521.4 224.4L522.2 224.8L522.9 225L523.6 225.5L524.4 226.1L525.1 226.7L525.8 227.5L526.6 228.8L527.3 230.1L528 231.9L528.8 234.2L529.5 236.6L530.2 238.9L531 240.8L531.7 243L532.4 245.3L533.2 247.7L533.9 250.3L534.6 252.5L535.4 254.9L536.1 257.5L536.9 259.9L537.6 262.4L538.3 265.2L539.1 267.5L539.8 269.3L540.5 272.8L541.3 274.6L542 276.6L542.7 278.2L543.5 279.9L544.2 281.6L544.9 283.4L545.7 285.3L546.4 286.7L547.1 288.5L547.9 289.3L548.6 290.4L549.3 290.9L550.1 291.1L550.8 290.7L551.6 291L552.3 291L553 291.1L553.8 290.7L554.5 290.9L555.2 291L556 290.7L556.7 290.7L557.4 290.9L558.2 288.9L558.9 287.5L559.6 286L560.4 285.1L561.1 285L561.8 284.6L562.6 284.1L563.3 284L564 283.7L564.8 283.1L565.5 283.1L566.3 282.6L567 282.7L567.7 282.3L568.5 282.1L569.2 282L569.9 282.1L570.7 281.8L571.4 281.4L572.1 281.6L572.9 281.3L573.6 281.1L574.3 280.8L575.1 280.7L575.8 280.4L576.5 280.4L577.3 280.2L578 279.9L578.7 279.7L579.5 279.7L580.2 279.4L581 279.5L581.7 279.3L582.4 278.8L583.2 278.8L583.9 278.6L584.6 278.4L585.4 278.4L586.1 278.4L586.8 278.1L587.6 277.7L588.3 277.9L589 277.5L589.8 277.3L590.5 277.3L591.2 277.3L592 276.9L592.7 276.7L593.4 276.9L594.2 276.5L594.9 276.4L595.7 276.3L596.4 276.2L597.1 276.1L597.9 276L598.6 275.9L599.3 275.6L600.1 275.3L600.8 275.5L601.5 275L602.3 275.2L603 275L603.7 275L604.5 274.6L605.2 274.3L605.9 274.3L606.7 274.3L607.4 274.1L608.1 273.9L608.9 274L609.6 273.7L610.4 273.7L611.1 273.5L611.8 273.5L612.6 273.3L613.3 273.2L614 273.1L614.8 273L615.5 272.7L616.2 272.5L617 272.4L617.7 272.3L618.4 271.9L619.2 271.9L619.9 271.6L620.6 271.3L621.4 271.4L622.1 271.1L622.8 271.1L623.6 271L624.3 271L625.1 271L625.8 271.1L626.5 270.9L627.3 270.7L628 271.1L628.7 271L629.5 271L630.2 270.9L630.9 270.9L631.7 270.8L632.4 270.9L633.1 271L633.9 271L634.6 270.8L635.3 271.1L636.1 271L636.8 270.7L637.5 270.9L638.3 271L639 270.9L639.8 270.8L640.5 271L641.2 270.9L642 270.7L642.7 270.9L643.4 271.1L644.2 270.8L644.9 270.7L645.6 270.8L646.4 270.8L647.1 271L647.8 270.7L648.6 270.9L649.3 270.9L650 271L650.8 270.8L651.5 271.1L652.2 270.7" stroke-width="1.4" />
<line x1="428.4" y1="269.3" x2="428.4" y2="254.5" stroke-width="1.9"/>
<path d="M509.5 270.3L510.2 269.9L510.9 270.2L511.6 270.2L512.3 269.9L513 270.2L513.7 270.2L514.4 270L515.1 270L515.8 268.9L516.5 267.1L517.2 265.2L517.9 263L518.6 261.2L519.3 259.2L520 256.9L520.7 255.1L521.4 253.2L522.1 251.2L522.8 249.6L523.5 247.5L524.2 245.8L524.9 243.7L525.6 242.4L526.3 241.1L527 240.4L527.7 239.3L528.4 238.9L529.1 238.3L529.8 238.1L530.5 237.9L531.2 237.7L531.9 237.7L532.6 237.9L533.3 238L534 238.3L534.7 239.1L535.4 239.7L536.1 240.5L536.8 241.3L537.5 242.7L538.2 244.6L538.9 246.5L539.6 248.5L540.3 250.6L541 252.3L541.7 254.6L542.4 256.4L543.1 258.6L543.8 260.5L544.5 263L545.2 264.9L545.9 267.4L546.6 269L547.3 271.6L548 272.8L548.7 274.4L549.4 275.4L550.1 276.7L550.8 277.7L551.5 278.8L552.2 280L552.9 281.4L553.6 282.3L554.3 283.6L555 284.6L555.7 285.6L556.4 286.5L557.1 287.1L557.8 287.7L558.5 287.8L559.2 288.1L559.9 287.8L560.6 288L561.3 287.8L562 287.8L562.7 287.8L563.4 287.8L564.1 288L564.8 288.1L565.5 287.8L566.2 287.6L566.9 285.9L567.6 284.9L568.3 283.8L569 283.3L569.7 282.9L570.4 282.6L571.1 282.2L571.8 281.8L572.5 281.6L573.2 281.5L573.9 281.2L574.6 280.9L575.3 280.9L576 280.6L576.7 280.4L577.4 280.4L578.1 280.4L578.8 280L579.5 280.2L580.2 279.9L580.9 279.9L581.6 279.5L582.3 279.3L583 279.3L583.7 279.2L584.4 279L585.1 278.6L585.8 278.7L586.5 278.6L587.2 278.3L587.9 278.1L588.6 278.1L589.3 277.9L590 278L590.7 277.6L591.4 277.4L592.1 277.2L592.8 277.3L593.5 277.2L594.2 277.1L594.9 276.7L595.6 276.8L596.3 276.6L597 276.6L597.7 276.3L598.4 276.3L599.1 276.2L599.8 275.8L600.5 275.8L601.2 275.7L601.9 275.8L602.6 275.4L603.3 275.3L604 275.2L604.7 275.2L605.4 275.1L606.1 274.8L606.8 274.6L607.5 274.6L608.2 274.4L608.9 274.5L609.6 274.1L610.3 274L611 274.2L611.7 274L612.4 274L613.1 273.6L613.8 273.8L614.5 273.4L615.2 273.6L615.9 273.4L616.6 273.3L617.3 273L618 272.9L618.7 272.7L619.4 272.9L620.1 272.5L620.8 272.6L621.5 272.4L622.2 272.1L622.9 272.2L623.6 272.1L624.3 271.9L625 271.5L625.7 271.7L626.4 271.3L627.1 271.1L627.8 271.2L628.5 271.2L629.2 271.2L629.9 271L630.6 271L631.3 271L632 270.8L632.7 270.8L633.4 271.1L634.1 270.8L634.8 270.8L635.5 270.8L636.2 270.8L636.9 270.8L637.6 270.9L638.3 271L639 271.1L639.7 270.8L640.4 270.8L641.1 270.9L641.8 271.1L642.5 270.9L643.2 270.8L643.9 271.1L644.6 270.7L645.3 271L646 270.8L646.7 271L647.4 270.9L648.1 271L648.8 270.8L649.5 270.7L650.2 270.7L650.9 270.7L651.6 271L652.3 270.9L653 271.1L653.7 270.7L654.4 270.8L655.1 270.7L655.8 270.8L656.5 270.8" stroke-width="1.4" />
<line x1="438.1" y1="269.3" x2="438.1" y2="254.5" stroke-width="1.9"/>
<path d="M519 270.1L519.7 270.2L520.4 270.1L521.1 270.1L521.8 270.1L522.5 270.3L523.2 269.9L523.9 270.2L524.6 270.3L525.3 269.9L526 268.7L526.7 267L527.4 265.1L528.1 262.9L528.8 261L529.5 258.9L530.2 257.3L530.9 255.1L531.6 253.3L532.3 251.7L533 249.6L533.7 247.8L534.4 245.7L535.1 244.3L535.8 243.1L536.5 242L537.2 241.5L537.9 240.7L538.6 240.3L539.3 240.2L540 239.8L540.7 239.7L541.4 239.6L542.1 240L542.8 240L543.5 240.5L544.2 241.2L544.9 241.6L545.6 242.6L546.3 243.3L547 244.8L547.7 246.4L548.4 248.5L549.1 250.5L549.8 252.6L550.5 254.4L551.2 256.5L551.9 258.4L552.6 260.6L553.3 262.5L554 264.9L554.7 267L555.4 268.8L556.1 271.5L556.8 272.4L557.5 273.4L558.2 274.6L558.9 275.3L559.6 276.5L560.3 277.1L561 278.3L561.7 279.2L562.4 280.1L563.1 280.9L563.8 281.9L564.5 282.8L565.2 283.5L565.9 284L566.6 284.9L567.3 285.2L568 285.4L568.7 285.4L569.4 285.3L570.1 285.3L570.8 285.4L571.5 285.6L572.2 285.5L572.9 285.3L573.6 285.2L574.3 285.5L575 285.3L575.7 285.2L576.4 283.8L577.1 282.6L577.8 282L578.5 281.4L579.2 281.2L579.9 280.6L580.6 280.4L581.3 280.3L582 279.9L582.7 279.9L583.4 279.6L584.1 279.4L584.8 279.5L585.5 279.3L586.2 279.1L586.9 279.1L587.6 279.1L588.3 278.6L589 278.5L589.7 278.5L590.4 278.6L591.1 278.5L591.8 278.2L592.5 277.9L593.2 278L593.9 277.6L594.6 277.8L595.3 277.4L596 277.3L596.7 277.4L597.4 277.3L598.1 276.9L598.8 277L599.5 276.7L600.2 276.8L600.9 276.4L601.6 276.3L602.3 276.2L603 276.1L603.7 276.2L604.4 276.1L605.1 275.7L605.8 275.6L606.5 275.7L607.2 275.5L607.9 275.3L608.6 275.2L609.3 275.1L610 275L610.7 275L611.4 275.1L612.1 274.6L612.8 274.8L613.5 274.5L614.2 274.6L614.9 274.3L615.6 274.3L616.3 274.1L617 274.2L617.7 274.1L618.4 273.8L619.1 273.9L619.8 273.7L620.5 273.6L621.2 273.4L621.9 273.3L622.6 273.3L623.3 273.4L624 273L624.7 273L625.4 273.2L626.1 272.8L626.8 273L627.5 272.5L628.2 272.7L628.9 272.4L629.6 272.3L630.3 272.5L631 272.2L631.7 272.2L632.4 272.1L633.1 271.7L633.8 271.6L634.5 271.7L635.2 271.2L635.9 271.5L636.6 271.4L637.3 271.3L638 271.1L638.7 271.1L639.4 270.9L640.1 271L640.8 270.7L641.5 270.8L642.2 270.8L642.9 271.1L643.6 271L644.3 270.9L645 271L645.7 270.9L646.4 270.9L647.1 271.1L647.8 271.1L648.5 270.8L649.2 270.8L649.9 270.7L650.6 270.8L651.3 270.8L652 270.7L652.7 270.8L653.4 270.9L654.1 271L654.8 271L655.5 270.9L656.2 270.9L656.9 270.9L657.6 270.8L658.3 271L659 271L659.7 270.8L660.4 271.1L661.1 270.8L661.8 271.1L662.5 271L663.2 270.7L663.9 270.9L664.6 271L665.3 270.9L666 270.7" stroke-width="1.4" />
<line x1="447.8" y1="269.3" x2="447.8" y2="254.5" stroke-width="1.9"/>
<path d="M528 270.2L528.7 269.9L529.4 270.2L530.1 270.1L530.8 270L531.5 270.1L532.2 270.2L532.9 270L533.6 269.9L534.3 269.6L535 268.1L535.7 266.1L536.4 264L537.1 262.2L537.8 260.2L538.5 257.9L539.2 256.1L539.9 254.4L540.6 252.5L541.3 250.3L542 248.6L542.7 246.7L543.4 244.8L544.1 243.2L544.8 242.1L545.5 241L546.2 240.5L546.9 239.8L547.6 239.2L548.3 239L549 238.9L549.7 238.4L550.4 238.8L551.1 238.9L551.8 239.1L552.5 239.5L553.2 239.9L553.9 240.6L554.6 241.6L555.3 242.5L556 243.8L556.7 245.5L557.4 247.4L558.1 249.6L558.8 251.5L559.5 253.3L560.2 255.5L560.9 257.6L561.6 259.5L562.3 261.7L563 264L563.7 266L564.4 268L565.1 271.1L565.8 272.2L566.5 273.1L567.2 273.9L567.9 274.6L568.6 275.5L569.3 276.6L570 277.6L570.7 278.5L571.4 279.3L572.1 280.2L572.8 281L573.5 282L574.2 282.6L574.9 283.1L575.6 283.7L576.3 284.3L577 284.5L577.7 284.2L578.4 284.3L579.1 284.6L579.8 284.5L580.5 284.4L581.2 284.2L581.9 284.5L582.6 284.6L583.3 284.4L584 284.5L584.7 284.4L585.4 282.9L586.1 282.1L586.8 281.2L587.5 280.5L588.2 280.4L588.9 279.9L589.6 279.8L590.3 279.4L591 279.4L591.7 279.2L592.4 279.1L593.1 278.8L593.8 278.9L594.5 278.5L595.2 278.5L595.9 278.4L596.6 278.4L597.3 278.4L598 277.9L598.7 278.2L599.4 277.9L600.1 277.7L600.8 277.7L601.5 277.6L602.2 277.6L602.9 277.3L603.6 277.2L604.3 277.2L605 277L605.7 276.8L606.4 276.7L607.1 276.5L607.8 276.5L608.5 276.2L609.2 276.4L609.9 276.2L610.6 275.9L611.3 275.8L612 275.6L612.7 275.6L613.4 275.6L614.1 275.5L614.8 275.5L615.5 275.3L616.2 275.1L616.9 275L617.6 274.9L618.3 275L619 274.9L619.7 274.8L620.4 274.5L621.1 274.4L621.8 274.4L622.5 274.2L623.2 274.1L623.9 274.3L624.6 274.2L625.3 274L626 274.1L626.7 273.8L627.4 273.6L628.1 273.5L628.8 273.5L629.5 273.6L630.2 273.4L630.9 273.3L631.6 273.1L632.3 273.2L633 273L633.7 273.1L634.4 273L635.1 272.8L635.8 272.8L636.5 272.6L637.2 272.6L637.9 272.5L638.6 272.5L639.3 272L640 271.9L640.7 271.8L641.4 272L642.1 271.6L642.8 271.7L643.5 271.5L644.2 271.3L644.9 271.2L645.6 271L646.3 271L647 270.9L647.7 271.2L648.4 270.9L649.1 270.7L649.8 271L650.5 271L651.2 270.8L651.9 270.8L652.6 271L653.3 270.8L654 271L654.7 270.9L655.4 270.8L656.1 270.9L656.8 270.9L657.5 270.9L658.2 271.1L658.9 270.8L659.6 270.9L660.3 270.9L661 271.1L661.7 270.7L662.4 270.8L663.1 271.1L663.8 270.7L664.5 270.7L665.2 270.8L665.9 270.7L666.6 270.8L667.3 271L668 271L668.7 270.8L669.4 271L670.1 270.8L670.8 271.1L671.5 270.9L672.2 270.9L672.9 270.8L673.6 271L674.3 270.8L675 271" stroke-width="1.4" />
<line x1="457.5" y1="269.3" x2="457.5" y2="254.5" stroke-width="1.15"/>
<path d="M536.6 270.1L537.3 270.1L538 270.3L538.7 270L539.4 270.3L540.1 269.9L540.8 270.1L541.5 270.2L542.2 270.1L542.9 269.2L543.6 267.6L544.3 265.4L545 263.3L545.7 261.4L546.4 259.2L547.1 257.2L547.8 255.2L548.5 253.5L549.2 251.7L549.9 249.5L550.6 247.7L551.3 245.8L552 244L552.7 242.3L553.4 241.4L554.1 240.5L554.8 239.6L555.5 239L556.2 238.7L556.9 238L557.6 237.9L558.3 237.8L559 238L559.7 237.9L560.4 238.3L561.1 238.6L561.8 239.1L562.5 239.7L563.2 240.6L563.9 241.8L564.6 242.9L565.3 244.7L566 246.6L566.7 248.8L567.4 250.9L568.1 252.6L568.8 254.6L569.5 256.8L570.2 258.7L570.9 261.1L571.6 263.2L572.3 265.1L573 267.4L573.7 269.3L574.4 271.6L575.1 272.3L575.8 273.5L576.5 274.2L577.2 275.4L577.9 276.2L578.6 277.1L579.3 277.9L580 278.8L580.7 279.8L581.4 280.6L582.1 281.2L582.8 282.1L583.5 282.5L584.2 283.1L584.9 283.9L585.6 284.1L586.3 283.8L587 283.7L587.7 283.8L588.4 284L589.1 284L589.8 283.8L590.5 283.9L591.2 283.9L591.9 284L592.6 284L593.3 283.7L594 282.6L594.7 281.4L595.4 280.7L596.1 280.1L596.8 279.9L597.5 279.5L598.2 279.5L598.9 279.3L599.6 279L600.3 279.1L601 278.8L601.7 278.4L602.4 278.6L603.1 278.2L603.8 278.2L604.5 278L605.2 277.9L605.9 278.1L606.6 277.8L607.3 277.7L608 277.8L608.7 277.6L609.4 277.4L610.1 277.1L610.8 277.1L611.5 276.9L612.2 277L612.9 277L613.6 276.6L614.3 276.8L615 276.5L615.7 276.5L616.4 276.2L617.1 276.2L617.8 275.9L618.5 275.8L619.2 276L619.9 275.7L620.6 275.7L621.3 275.7L622 275.4L622.7 275.6L623.4 275.2L624.1 275L624.8 275L625.5 274.9L626.2 274.7L626.9 274.8L627.6 274.5L628.3 274.5L629 274.4L629.7 274.3L630.4 274.2L631.1 274.4L631.8 274.1L632.5 274.2L633.2 274L633.9 274L634.6 273.9L635.3 273.7L636 273.6L636.7 273.4L637.4 273.5L638.1 273.5L638.8 273.1L639.5 273.2L640.2 273.1L640.9 272.8L641.6 272.9L642.3 272.7L643 272.6L643.7 272.5L644.4 272.6L645.1 272.5L645.8 272.3L646.5 272.4L647.2 272.3L647.9 272.3L648.6 272.2L649.3 271.9L650 272L650.7 271.9L651.4 271.5L652.1 271.4L652.8 271.4L653.5 271.2L654.2 271.1L654.9 271L655.6 271L656.3 271L657 271.1L657.7 270.8L658.4 271.1L659.1 271L659.8 270.9L660.5 271L661.2 270.7L661.9 270.7L662.6 271.1L663.3 271L664 271L664.7 271L665.4 270.9L666.1 271L666.8 271.1L667.5 271L668.2 271L668.9 270.7L669.6 270.7L670.3 271L671 270.9L671.7 271L672.4 270.8L673.1 270.9L673.8 270.7L674.5 270.8L675.2 270.9L675.9 270.7L676.6 270.8L677.3 270.7L678 270.9L678.7 271.1L679.4 271L680.1 270.9L680.8 270.9L681.5 270.9L682.2 271L682.9 271L683.6 270.8" stroke-width="1.4" />
<line x1="467.2" y1="269.3" x2="467.2" y2="254.5" stroke-width="1.15"/>
<path d="M545.6 270.1L546.3 270.1L547 270.3L547.7 270.2L548.4 270L549.1 270.2L549.8 270.2L550.5 270.1L551.2 269.9L551.9 269.2L552.6 267.4L553.3 265.5L554 263.2L554.7 261.2L555.4 259.3L556.1 257.2L556.8 255.2L557.5 253.5L558.2 251.7L558.9 249.7L559.6 247.9L560.3 245.9L561 244.1L561.7 242.5L562.4 241.3L563.1 240.2L563.8 239.7L564.5 238.9L565.2 238.7L565.9 238L566.6 237.8L567.3 238L568 237.9L568.7 238.1L569.4 238.4L570.1 238.9L570.8 239.2L571.5 239.8L572.2 240.8L572.9 241.9L573.6 243L574.3 244.5L575 246.5L575.7 248.7L576.4 250.9L577.1 252.8L577.8 254.6L578.5 256.9L579.2 258.9L579.9 260.7L580.6 263.2L581.3 265.4L582 267.4L582.7 269.3L583.4 271.6L584.1 272.3L584.8 273.4L585.5 274.5L586.2 275.2L586.9 276.3L587.6 277.2L588.3 278.1L589 278.9L589.7 279.8L590.4 280.6L591.1 281.4L591.8 282.1L592.5 282.5L593.2 283.3L593.9 283.5L594.6 283.8L595.3 283.7L596 284.1L596.7 283.9L597.4 283.8L598.1 283.8L598.8 284L599.5 283.9L600.2 284.1L600.9 283.8L601.6 284.1L602.3 283.9L603 282.5L603.7 281.6L604.4 280.9L605.1 280.2L605.8 279.9L606.5 279.8L607.2 279.4L607.9 279.2L608.6 278.9L609.3 278.8L610 278.6L610.7 278.8L611.4 278.6L612.1 278.4L612.8 278.1L613.5 278.1L614.2 278L614.9 277.9L615.6 277.9L616.3 277.9L617 277.7L617.7 277.7L618.4 277.5L619.1 277.1L619.8 277.1L620.5 277L621.2 277L621.9 276.6L622.6 276.8L623.3 276.4L624 276.7L624.7 276.2L625.4 276.3L626.1 276.1L626.8 276L627.5 275.8L628.2 276L628.9 275.8L629.6 275.5L630.3 275.6L631 275.3L631.7 275.5L632.4 275.2L633.1 275L633.8 275.1L634.5 275.1L635.2 274.7L635.9 274.6L636.6 274.5L637.3 274.6L638 274.4L638.7 274.4L639.4 274.3L640.1 274.2L640.8 273.9L641.5 273.9L642.2 273.9L642.9 273.8L643.6 273.7L644.3 273.8L645 273.5L645.7 273.6L646.4 273.3L647.1 273.5L647.8 273.1L648.5 273L649.2 273.3L649.9 272.9L650.6 272.9L651.3 272.9L652 272.9L652.7 272.8L653.4 272.8L654.1 272.4L654.8 272.4L655.5 272.2L656.2 272.4L656.9 272.3L657.6 271.9L658.3 271.9L659 271.7L659.7 271.9L660.4 271.7L661.1 271.5L661.8 271.4L662.5 271.3L663.2 271.2L663.9 271L664.6 271.1L665.3 271L666 270.8L666.7 271.1L667.4 270.7L668.1 271L668.8 270.9L669.5 270.7L670.2 271.1L670.9 270.9L671.6 271L672.3 270.9L673 270.9L673.7 270.8L674.4 270.8L675.1 271.1L675.8 270.7L676.5 271L677.2 270.8L677.9 271L678.6 271.1L679.3 270.9L680 270.8L680.7 270.9L681.4 270.9L682.1 270.8L682.8 270.7L683.5 270.8L684.2 271L684.9 270.8L685.6 270.8L686.3 270.8L687 270.8L687.7 271L688.4 270.8L689.1 271L689.8 270.9L690.5 271L691.2 270.8L691.9 270.8L692.6 270.9" stroke-width="1.4" />
<line x1="476.9" y1="269.3" x2="476.9" y2="254.5" stroke-width="1.15"/>
<path d="M555 269.9L555.7 270L556.4 269.9L557.1 270.2L557.8 270.3L558.5 270.3L559.2 269.9L559.9 270.1L560.6 269.8L561.3 268.9L562 267.4L562.7 265.3L563.4 263.4L564.1 261.3L564.8 259.2L565.5 257.1L566.2 255.3L566.9 253.5L567.6 251.5L568.3 249.9L569 247.9L569.7 245.7L570.4 244L571.1 242.3L571.8 241.3L572.5 240.5L573.2 239.5L573.9 239.3L574.6 238.7L575.3 238.3L576 238L576.7 237.7L577.4 237.7L578.1 237.9L578.8 238.3L579.5 238.6L580.2 239.1L580.9 239.9L581.6 240.6L582.3 241.5L583 243.1L583.7 244.8L584.4 246.8L585.1 248.6L585.8 250.6L586.5 252.5L587.2 254.5L587.9 256.9L588.6 259L589.3 261L590 263.1L590.7 265.2L591.4 267.5L592.1 269L592.8 271.6L593.5 272.3L594.2 273.3L594.9 274.3L595.6 275.4L596.3 276.2L597 277.1L597.7 278.1L598.4 278.7L599.1 279.5L599.8 280.4L600.5 281.5L601.2 282L601.9 282.5L602.6 283.1L603.3 283.5L604 283.8L604.7 284.1L605.4 283.8L606.1 284L606.8 283.8L607.5 284L608.2 283.8L608.9 283.8L609.6 284.1L610.3 283.9L611 284L611.7 283.6L612.4 282.7L613.1 281.7L613.8 280.9L614.5 280.1L615.2 280.2L615.9 279.5L616.6 279.6L617.3 279.2L618 279.2L618.7 278.8L619.4 278.9L620.1 278.5L620.8 278.6L621.5 278.3L622.2 278.1L622.9 278.1L623.6 277.9L624.3 277.8L625 277.7L625.7 278L626.4 277.6L627.1 277.5L627.8 277.3L628.5 277.5L629.2 277.1L629.9 277L630.6 277.1L631.3 276.8L632 276.5L632.7 276.7L633.4 276.7L634.1 276.5L634.8 276.5L635.5 276.4L636.2 276.2L636.9 276L637.6 275.7L638.3 275.6L639 275.7L639.7 275.6L640.4 275.3L641.1 275.5L641.8 275.1L642.5 275.2L643.2 274.9L643.9 275.1L644.6 274.8L645.3 274.9L646 274.6L646.7 274.4L647.4 274.4L648.1 274.2L648.8 274.4L649.5 274.3L650.2 274L650.9 274.2L651.6 274.1L652.3 273.9L653 273.9L653.7 273.9L654.4 273.6L655.1 273.5L655.8 273.3L656.5 273.2L657.2 273.3L657.9 273.1L658.6 273.2L659.3 272.9L660 272.8L660.7 272.7L661.4 272.9L662.1 272.8L662.8 272.7L663.5 272.5L664.2 272.3L664.9 272.3L665.6 272.1L666.3 272.1L667 272L667.7 272L668.4 272L669.1 271.5L669.8 271.6L670.5 271.6L671.2 271.2L671.9 271.2L672.6 271.3L673.3 271.3L674 271.1L674.7 270.9L675.4 270.8L676.1 271.1L676.8 270.9L677.5 271.1L678.2 270.9L678.9 271L679.6 270.7L680.3 270.9L681 271.1L681.7 271.1L682.4 270.9L683.1 270.8L683.8 271L684.5 271L685.2 270.9L685.9 271L686.6 270.8L687.3 270.9L688 270.8L688.7 270.9L689.4 270.9L690.1 270.8L690.8 271.1L691.5 271L692.2 271L692.9 271L693.6 271.1L694.3 270.8L695 271.1L695.7 270.8L696.4 270.8L697.1 270.7L697.8 271L698.5 270.8L699.2 271L699.9 271L700.6 270.8L701.3 270.7L702 270.9" stroke-width="1.4" />
<line x1="486.6" y1="269.3" x2="486.6" y2="254.5" stroke-width="1.15"/>
<path d="M564.4 269.9L565.1 270.2L565.8 270.3L566.5 270.2L567.2 270.2L567.9 270L568.6 270.1L569.3 270.1L570 270.1L570.7 268.9L571.4 267.4L572.1 265.4L572.8 263.2L573.5 261.3L574.2 259.1L574.9 257.3L575.6 255.1L576.3 253.2L577 251.6L577.7 249.8L578.4 247.8L579.1 245.8L579.8 243.7L580.5 242.2L581.2 241.1L581.9 240.4L582.6 239.5L583.3 238.8L584 238.6L584.7 238.1L585.4 238.1L586.1 237.6L586.8 237.9L587.5 237.7L588.2 238.2L588.9 238.7L589.6 239.2L590.3 240L591 240.6L591.7 241.7L592.4 242.9L593.1 244.6L593.8 246.7L594.5 248.4L595.2 250.6L595.9 252.4L596.6 254.5L597.3 256.7L598 258.5L598.7 260.8L599.4 263.1L600.1 265.2L600.8 267.4L601.5 269.2L602.2 271.6L602.9 272.7L603.6 273.5L604.3 274.4L605 275.4L605.7 276.2L606.4 277.1L607.1 277.9L607.8 278.6L608.5 279.9L609.2 280.6L609.9 281.5L610.6 282.3L611.3 282.6L612 283.1L612.7 283.8L613.4 283.7L614.1 283.7L614.8 284L615.5 284L616.2 283.7L616.9 283.9L617.6 283.7L618.3 284L619 283.7L619.7 284.1L620.4 283.7L621.1 283.6L621.8 282.5L622.5 281.7L623.2 280.7L623.9 280.4L624.6 279.8L625.3 279.9L626 279.4L626.7 279.3L627.4 279.3L628.1 279L628.8 278.6L629.5 278.5L630.2 278.4L630.9 278.5L631.6 278.2L632.3 278.2L633 278L633.7 278L634.4 277.7L635.1 277.8L635.8 277.8L636.5 277.6L637.2 277.3L637.9 277.4L638.6 277.1L639.3 277.1L640 276.9L640.7 276.9L641.4 276.9L642.1 276.4L642.8 276.7L643.5 276.2L644.2 276.4L644.9 276.3L645.6 276.1L646.3 275.9L647 275.9L647.7 275.7L648.4 275.6L649.1 275.8L649.8 275.6L650.5 275.5L651.2 275.2L651.9 275.3L652.6 275L653.3 275L654 275.1L654.7 274.6L655.4 274.6L656.1 274.6L656.8 274.3L657.5 274.5L658.2 274.2L658.9 274.2L659.6 274L660.3 273.9L661 274L661.7 273.9L662.4 273.9L663.1 273.6L663.8 273.4L664.5 273.4L665.2 273.3L665.9 273.3L666.6 273.2L667.3 273.2L668 273L668.7 272.9L669.4 272.7L670.1 272.7L670.8 272.7L671.5 272.6L672.2 272.8L672.9 272.4L673.6 272.5L674.3 272.3L675 272.3L675.7 272.2L676.4 271.9L677.1 271.8L677.8 271.9L678.5 271.8L679.2 271.5L679.9 271.5L680.6 271.2L681.3 271.2L682 271.1L682.7 271L683.4 271.1L684.1 271.2L684.8 271L685.5 270.8L686.2 270.8L686.9 270.9L687.6 270.9L688.3 271L689 270.8L689.7 270.9L690.4 271L691.1 271.1L691.8 271L692.5 270.9L693.2 271L693.9 270.8L694.6 270.9L695.3 271L696 270.8L696.7 271L697.4 270.9L698.1 271.1L698.8 270.8L699.5 270.9L700.2 270.8L700.9 270.9L701.6 270.7L702.3 270.7L703 270.8L703.7 271L704.4 270.8L705.1 270.8L705.8 271.1L706.5 270.9L707.2 270.8L707.9 271L708.6 271.1L709.3 270.7L710 271.1L710.7 271.1L711.4 271.1" stroke-width="1.4" />
<line x1="496.3" y1="269.3" x2="496.3" y2="254.5" stroke-width="1.15"/>
<path d="M573.7 270.1L574.4 270L575.1 270L575.8 270.2L576.5 269.9L577.2 269.9L577.9 270.1L578.6 270L579.3 269.3L580 267.9L580.7 266.1L581.4 263.8L582.1 261.9L582.8 259.6L583.5 257.6L584.2 255.9L584.9 253.8L585.6 252L586.3 250.1L587 248.1L587.7 246.1L588.4 244.3L589.1 242.6L589.8 240.8L590.5 239.7L591.2 238.7L591.9 238.4L592.6 237.6L593.3 237.2L594 236.8L594.7 236.3L595.4 236.3L596.1 236.4L596.8 236.6L597.5 236.7L598.2 237.1L598.9 237.8L599.6 238.5L600.3 239.1L601 240.1L601.7 241.6L602.4 243.3L603.1 244.9L603.8 247.3L604.5 249.2L605.2 251.2L605.9 253.2L606.6 255.3L607.3 257.1L608 259.3L608.7 261.4L609.4 263.6L610.1 266.2L610.8 268L611.5 270.9L612.2 272.1L612.9 272.9L613.6 274L614.3 274.8L615 275.8L615.7 276.7L616.4 277.7L617.1 278.4L617.8 279.3L618.5 280.4L619.2 281.1L619.9 282.2L620.6 282.8L621.3 283.2L622 283.7L622.7 283.8L623.4 283.7L624.1 283.7L624.8 283.8L625.5 283.8L626.2 283.9L626.9 283.7L627.6 284L628.3 284L629 283.9L629.7 283.8L630.4 283.9L631.1 282.4L631.8 281.4L632.5 280.8L633.2 280.3L633.9 279.8L634.6 279.7L635.3 279.4L636 279.4L636.7 279.2L637.4 278.8L638.1 278.9L638.8 278.4L639.5 278.4L640.2 278.2L640.9 278.3L641.6 278.2L642.3 278.1L643 278L643.7 277.7L644.4 277.9L645.1 277.7L645.8 277.7L646.5 277.6L647.2 277.3L647.9 277.1L648.6 276.9L649.3 276.8L650 276.7L650.7 276.6L651.4 276.6L652.1 276.5L652.8 276.4L653.5 276.3L654.2 276.2L654.9 276L655.6 275.8L656.3 276L657 275.6L657.7 275.8L658.4 275.7L659.1 275.3L659.8 275.2L660.5 275.2L661.2 275.3L661.9 274.9L662.6 275.1L663.3 274.7L664 274.7L664.7 274.7L665.4 274.8L666.1 274.5L666.8 274.6L667.5 274.2L668.2 274.2L668.9 274L669.6 273.9L670.3 273.9L671 274L671.7 274L672.4 273.6L673.1 273.7L673.8 273.5L674.5 273.2L675.2 273.4L675.9 273.2L676.6 273.3L677.3 273.2L678 272.9L678.7 272.9L679.4 273L680.1 272.8L680.8 272.8L681.5 272.4L682.2 272.5L682.9 272.3L683.6 272.5L684.3 272.3L685 272L685.7 272L686.4 271.9L687.1 271.8L687.8 271.8L688.5 271.8L689.2 271.6L689.9 271.4L690.6 271.4L691.3 271.2L692 271.1L692.7 270.9L693.4 270.9L694.1 271.1L694.8 270.9L695.5 270.8L696.2 271L696.9 271.1L697.6 271L698.3 270.8L699 271L699.7 270.7L700.4 271L701.1 270.7L701.8 270.9L702.5 271L703.2 271L703.9 271L704.6 270.9L705.3 270.8L706 271L706.7 270.9L707.4 271L708.1 270.7L708.8 270.9L709.5 270.9L710.2 271L710.9 270.7L711.6 271L712.3 270.7L713 270.7L713.7 270.8L714.4 271L715.1 271L715.8 270.8L716.5 271.1L717.2 270.8L717.9 271.1L718.6 271L719.3 271L720 271L720.7 270.9" stroke-width="1.4" />
<path d="M452.5 269.8L458.5 271.8L463.5 275.3L469.5 277.1L474.5 276.1L478.5 272.8L481.5 270.3" stroke-width="1.0" />
<path d="M466.5 271.3L471.5 273.6L478.5 273.9L484.5 271.7L488.5 270.1" stroke-width="1.0" />
<line x1="488.6" y1="271.8" x2="690.7" y2="271.8" stroke-width="2.6"/>
<line x1="488.6" y1="269.40000000000003" x2="550.6" y2="269.40000000000003" stroke-width="1.2"/>
<line x1="492.6" y1="272.90000000000003" x2="536.6" y2="272.90000000000003" stroke-width="1.6"/>
<line x1="558.5" y1="283.90000000000003" x2="629.7" y2="283.90000000000003" stroke-width="1.7"/>
<line x1="690.7" y1="270.8" x2="727" y2="270.8" stroke-width="1.4"/>
<polygon points="573.7,278.9 595.7,271.4 691.7,271.4 682.7,272.7 668.7,274.3 646.7,277.0 630.7,279.3 620.7,278.9" fill="#000" stroke="none"/>
<text x="442.3" y="240.3" font-size="14.5" font-weight="bold" text-anchor="start" textLength="31" lengthAdjust="spacingAndGlyphs" >5 Hz</text>
<path d="M640.9 235.7H673.8V219.5" stroke-width="2.3" stroke-linejoin="miter" stroke-linecap="butt"/>
<text x="680.9" y="232.6" font-size="14.5" font-weight="bold" text-anchor="start" textLength="36.6" lengthAdjust="spacingAndGlyphs" >5 mV</text>
<text x="638.7" y="251.7" font-size="14.5" font-weight="bold" text-anchor="start" textLength="36" lengthAdjust="spacingAndGlyphs" >2 ms</text>
<text x="362.8" y="14.8" font-size="14.5" font-weight="bold" text-anchor="start" textLength="23.2" lengthAdjust="spacingAndGlyphs" >(C)</text>
<text x="392.8" y="47.2" font-size="16" font-weight="bold" text-anchor="start" >1</text>
<rect x="365.7" y="345.5" width="201.50000000000006" height="148.60000000000002" fill="none" stroke="#777" stroke-width="1"/>
<g stroke="#333" stroke-width="1">
<line x1="361.2" y1="494.1" x2="365.7" y2="494.1"/>
<line x1="361.2" y1="465.8" x2="365.7" y2="465.8"/>
<line x1="361.2" y1="437.5" x2="365.7" y2="437.5"/>
<line x1="361.2" y1="409.2" x2="365.7" y2="409.2"/>
<line x1="361.2" y1="380.9" x2="365.7" y2="380.9"/>
<line x1="361.2" y1="352.6" x2="365.7" y2="352.6"/>
<line x1="405.7" y1="494.1" x2="405.7" y2="497.6"/>
<line x1="466" y1="494.1" x2="466" y2="497.6"/>
<line x1="526.3" y1="494.1" x2="526.3" y2="497.6"/>
</g>
<text x="359.3" y="496.3" font-size="6.3" font-weight="normal" text-anchor="end" fill="#111">0</text>
<text x="359.3" y="468.0" font-size="6.3" font-weight="normal" text-anchor="end" fill="#111">20</text>
<text x="359.3" y="439.7" font-size="6.3" font-weight="normal" text-anchor="end" fill="#111">40</text>
<text x="359.3" y="411.4" font-size="6.3" font-weight="normal" text-anchor="end" fill="#111">60</text>
<text x="359.3" y="383.1" font-size="6.3" font-weight="normal" text-anchor="end" fill="#111">80</text>
<text x="359.3" y="354.8" font-size="6.3" font-weight="normal" text-anchor="end" fill="#111">100</text>
<g stroke="#444" stroke-width="1">
<path d="M405.7 427.6V456M397.9 427.6H413.5M397.9 456H413.5"/>
<path d="M466 384V420M458.2 384H473.8M458.2 420H473.8"/>
<path d="M526.3 370.8V413M518.5 370.8H534.0999999999999M518.5 413H534.0999999999999"/>
</g>
<rect x="383" y="454.2" width="44.8" height="39.9" fill="#000" stroke="none"/>
<rect x="443.4" y="418.7" width="44.8" height="75.4" fill="#000" stroke="none"/>
<rect x="503.3" y="411.2" width="45.2" height="82.9" fill="#000" stroke="none"/>
<text x="405.7" y="507.7" font-size="6.0" font-weight="bold" text-anchor="middle" fill="#111">1</text>
<text x="466" y="507.7" font-size="6.0" font-weight="bold" text-anchor="middle" fill="#111">3</text>
<text x="526.3" y="507.7" font-size="6.0" font-weight="bold" text-anchor="middle" fill="#111">5</text>
<text x="384.4" y="336.6" font-size="16" font-weight="bold" text-anchor="middle" >2</text>
<text x="466.5" y="524.6" font-size="13" font-weight="bold" text-anchor="middle" textLength="92" lengthAdjust="spacingAndGlyphs" >Frequency (Hz)</text>
<text x="465.8" y="544.8" font-size="10.6" font-weight="bold" text-anchor="middle" textLength="103.6" lengthAdjust="spacingAndGlyphs" >Error bars: +/- 2,00 SD</text>
<text transform="translate(342.6 420.1) rotate(-90)" font-size="11.5" font-weight="bold" text-anchor="middle" textLength="80" lengthAdjust="spacingAndGlyphs">Decrement (%)</text>
<rect x="609.5" y="345.5" width="203.20000000000005" height="147.7" fill="none" stroke="#777" stroke-width="1"/>
<g stroke="#333" stroke-width="1">
<line x1="605.0" y1="476.4" x2="609.5" y2="476.4"/>
<line x1="605.0" y1="440.9" x2="609.5" y2="440.9"/>
<line x1="605.0" y1="405.4" x2="609.5" y2="405.4"/>
<line x1="605.0" y1="369.9" x2="609.5" y2="369.9"/>
<line x1="649.9" y1="493.2" x2="649.9" y2="496.7"/>
<line x1="711.1" y1="493.2" x2="711.1" y2="496.7"/>
<line x1="771.9" y1="493.2" x2="771.9" y2="496.7"/>
</g>
<text x="603" y="478.6" font-size="6.3" font-weight="normal" text-anchor="end" fill="#111">0</text>
<text x="603" y="443.1" font-size="6.3" font-weight="normal" text-anchor="end" fill="#111">20</text>
<text x="603" y="407.6" font-size="6.3" font-weight="normal" text-anchor="end" fill="#111">40</text>
<text x="603" y="372.1" font-size="6.3" font-weight="normal" text-anchor="end" fill="#111">60</text>
<g stroke="#444" stroke-width="1">
<path d="M649.9 460.8V482.1M642.1 460.8H657.6999999999999M642.1 482.1H657.6999999999999"/>
<path d="M711.1 434.2V456M703.3000000000001 434.2H718.9M703.3000000000001 456H718.9"/>
<path d="M771.9 356.6V481.7M764.1 356.6H779.6999999999999M764.1 481.7H779.6999999999999"/>
</g>
<rect x="627.2" y="471.9" width="45.3" height="4.5" fill="#000" stroke="none"/>
<rect x="688.5" y="454.2" width="45.2" height="22.2" fill="#000" stroke="none"/>
<rect x="749.2" y="418.7" width="45.7" height="57.7" fill="#000" stroke="none"/>
<text x="649.9" y="507.7" font-size="6.0" font-weight="bold" text-anchor="middle" fill="#111">1</text>
<text x="711.1" y="507.7" font-size="6.0" font-weight="bold" text-anchor="middle" fill="#111">3</text>
<text x="771.9" y="507.7" font-size="6.0" font-weight="bold" text-anchor="middle" fill="#111">5</text>
<text x="622.8" y="336.6" font-size="16" font-weight="bold" text-anchor="middle" >3</text>
<text x="711.1" y="524.6" font-size="13" font-weight="bold" text-anchor="middle" textLength="92" lengthAdjust="spacingAndGlyphs" >Frequency (Hz)</text>
<text x="710.4" y="544.8" font-size="10.6" font-weight="bold" text-anchor="middle" textLength="103.6" lengthAdjust="spacingAndGlyphs" >Error bars: +/- 2,00 SD</text>
<text transform="translate(588.0 422.8) rotate(-90)" font-size="11.5" font-weight="bold" text-anchor="middle" textLength="75.5" lengthAdjust="spacingAndGlyphs">Increment (%)</text>
</svg>
</body>
</html>
